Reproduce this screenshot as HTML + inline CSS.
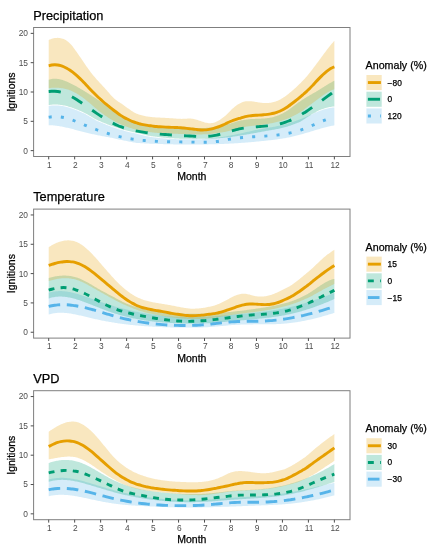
<!DOCTYPE html>
<html><head><meta charset="utf-8"><style>html,body{margin:0;padding:0;background:#fff;}svg{display:block;will-change:transform;filter:blur(0.3px);}</style></head>
<body><svg width="438" height="550" viewBox="0 0 438 550">
<rect width="438" height="550" fill="#fff"/>
<polygon points="48.70,106.01 49.70,105.84 50.70,105.70 51.70,105.58 52.70,105.50 53.70,105.44 54.70,105.42 55.70,105.42 56.70,105.44 57.70,105.49 58.70,105.57 59.70,105.67 60.70,105.79 61.70,105.94 62.70,106.11 63.70,106.30 64.70,106.50 65.70,106.73 66.70,106.98 67.70,107.25 68.70,107.53 69.70,107.83 70.70,108.15 71.70,108.48 72.70,108.82 73.70,109.18 74.70,109.55 75.70,109.93 76.70,110.33 77.70,110.74 78.70,111.15 79.70,111.58 80.70,112.01 81.70,112.45 82.70,112.90 83.70,113.35 84.70,113.81 85.70,114.35 86.70,114.93 87.70,115.51 88.70,116.09 89.70,116.67 90.70,117.26 91.70,117.85 92.70,118.44 93.70,119.03 94.70,119.62 95.70,120.21 96.70,120.69 97.70,121.13 98.70,121.57 99.70,122.00 100.70,122.43 101.70,122.86 102.70,123.28 103.70,123.69 104.70,124.10 105.70,124.50 106.70,124.90 107.70,125.29 108.70,125.68 109.70,126.06 110.70,126.43 111.70,126.80 112.70,127.16 113.70,127.51 114.70,127.86 115.70,128.20 116.70,128.52 117.70,128.84 118.70,129.15 119.70,129.46 120.70,129.76 121.70,130.05 122.70,130.34 123.70,130.62 124.70,130.89 125.70,131.16 126.70,131.42 127.70,131.68 128.70,131.92 129.70,132.16 130.70,132.40 131.70,132.63 132.70,132.85 133.70,133.06 134.70,133.27 135.70,133.48 136.70,133.73 137.70,134.00 138.70,134.26 139.70,134.52 140.70,134.77 141.70,135.02 142.70,135.26 143.70,135.49 144.70,135.71 145.70,135.93 146.70,136.14 147.70,136.35 148.70,136.55 149.70,136.74 150.70,136.91 151.70,137.06 152.70,137.20 153.70,137.33 154.70,137.46 155.70,137.59 156.70,137.71 157.70,137.82 158.70,137.93 159.70,138.04 160.70,138.14 161.70,138.23 162.70,138.32 163.70,138.41 164.70,138.49 165.70,138.56 166.70,138.64 167.70,138.71 168.70,138.77 169.70,138.83 170.70,138.89 171.70,138.94 172.70,138.99 173.70,139.03 174.70,139.08 175.70,139.12 176.70,139.15 177.70,139.18 178.70,139.21 179.70,139.24 180.70,139.26 181.70,139.28 182.70,139.30 183.70,139.31 184.70,139.33 185.70,139.34 186.70,139.35 187.70,139.35 188.70,139.36 189.70,139.36 190.70,139.36 191.70,139.35 192.70,139.35 193.70,139.34 194.70,139.33 195.70,139.32 196.70,139.31 197.70,139.29 198.70,139.27 199.70,139.25 200.70,139.20 201.70,139.14 202.70,139.08 203.70,139.01 204.70,138.94 205.70,138.87 206.70,138.79 207.70,138.71 208.70,138.62 209.70,138.53 210.70,138.44 211.70,138.34 212.70,138.23 213.70,138.12 214.70,138.01 215.70,137.88 216.70,137.76 217.70,137.63 218.70,137.49 219.70,137.35 220.70,137.20 221.70,137.05 222.70,136.89 223.70,136.73 224.70,136.57 225.70,136.40 226.70,136.22 227.70,136.04 228.70,135.86 229.70,135.68 230.70,135.49 231.70,135.29 232.70,135.10 233.70,134.90 234.70,134.70 235.70,134.49 236.70,134.29 237.70,134.08 238.70,133.86 239.70,133.65 240.70,133.43 241.70,133.21 242.70,132.99 243.70,132.77 244.70,132.54 245.70,132.32 246.70,132.09 247.70,131.86 248.70,131.63 249.70,131.40 250.70,131.17 251.70,130.94 252.70,130.70 253.70,130.47 254.70,130.27 255.70,130.08 256.70,129.90 257.70,129.71 258.70,129.52 259.70,129.34 260.70,129.15 261.70,128.97 262.70,128.78 263.70,128.60 264.70,128.42 265.70,128.24 266.70,128.06 267.70,127.88 268.70,127.71 269.70,127.54 270.70,127.36 271.70,127.19 272.70,127.01 273.70,126.83 274.70,126.65 275.70,126.46 276.70,126.27 277.70,126.08 278.70,125.87 279.70,125.66 280.70,125.44 281.70,125.21 282.70,124.97 283.70,124.72 284.70,124.45 285.70,124.17 286.70,123.88 287.70,123.58 288.70,123.27 289.70,122.95 290.70,122.63 291.70,122.32 292.70,122.00 293.70,121.66 294.70,121.32 295.70,120.97 296.70,120.60 297.70,120.23 298.70,119.85 299.70,119.47 300.70,119.07 301.70,118.67 302.70,118.26 303.70,117.85 304.70,117.43 305.70,117.01 306.70,116.59 307.70,116.17 308.70,115.74 309.70,115.32 310.70,114.87 311.70,114.41 312.70,113.95 313.70,113.49 314.70,113.05 315.70,112.61 316.70,112.18 317.70,111.76 318.70,111.35 319.70,110.96 320.70,110.58 321.70,110.22 322.70,109.87 323.70,109.54 324.70,109.22 325.70,108.93 326.70,108.66 327.70,108.41 328.70,108.18 329.70,107.98 330.70,107.80 331.70,107.65 332.70,107.52 333.70,107.43 334.37,107.38 334.37,125.37 333.70,125.49 332.70,125.68 331.70,125.87 330.70,126.08 329.70,126.29 328.70,126.52 327.70,126.75 326.70,126.99 325.70,127.24 324.70,127.50 323.70,127.77 322.70,128.04 321.70,128.31 320.70,128.59 319.70,128.88 318.70,129.17 317.70,129.46 316.70,129.76 315.70,130.06 314.70,130.36 313.70,130.66 312.70,130.96 311.70,131.27 310.70,131.57 309.70,131.88 308.70,132.18 307.70,132.48 306.70,132.78 305.70,133.08 304.70,133.37 303.70,133.67 302.70,133.95 301.70,134.23 300.70,134.51 299.70,134.78 298.70,135.05 297.70,135.31 296.70,135.57 295.70,135.82 294.70,136.06 293.70,136.30 292.70,136.53 291.70,136.75 290.70,136.97 289.70,137.19 288.70,137.39 287.70,137.59 286.70,137.79 285.70,137.97 284.70,138.15 283.70,138.33 282.70,138.50 281.70,138.66 280.70,138.81 279.70,138.96 278.70,139.11 277.70,139.25 276.70,139.38 275.70,139.51 274.70,139.64 273.70,139.77 272.70,139.89 271.70,140.01 270.70,140.13 269.70,140.24 268.70,140.35 267.70,140.47 266.70,140.58 265.70,140.69 264.70,140.80 263.70,140.90 262.70,141.01 261.70,141.11 260.70,141.21 259.70,141.31 258.70,141.41 257.70,141.51 256.70,141.61 255.70,141.70 254.70,141.80 253.70,141.89 252.70,141.98 251.70,142.06 250.70,142.15 249.70,142.24 248.70,142.32 247.70,142.40 246.70,142.48 245.70,142.56 244.70,142.64 243.70,142.72 242.70,142.79 241.70,142.86 240.70,142.93 239.70,143.00 238.70,143.07 237.70,143.14 236.70,143.20 235.70,143.27 234.70,143.33 233.70,143.39 232.70,143.45 231.70,143.50 230.70,143.56 229.70,143.61 228.70,143.66 227.70,143.71 226.70,143.76 225.70,143.81 224.70,143.85 223.70,143.90 222.70,143.94 221.70,143.98 220.70,144.02 219.70,144.06 218.70,144.09 217.70,144.13 216.70,144.16 215.70,144.19 214.70,144.22 213.70,144.25 212.70,144.27 211.70,144.30 210.70,144.32 209.70,144.34 208.70,144.36 207.70,144.38 206.70,144.39 205.70,144.41 204.70,144.42 203.70,144.43 202.70,144.44 201.70,144.45 200.70,144.45 199.70,144.45 198.70,144.46 197.70,144.46 196.70,144.46 195.70,144.45 194.70,144.45 193.70,144.44 192.70,144.43 191.70,144.42 190.70,144.41 189.70,144.41 188.70,144.42 187.70,144.43 186.70,144.44 185.70,144.44 184.70,144.45 183.70,144.45 182.70,144.45 181.70,144.45 180.70,144.45 179.70,144.44 178.70,144.44 177.70,144.43 176.70,144.42 175.70,144.41 174.70,144.40 173.70,144.38 172.70,144.37 171.70,144.35 170.70,144.33 169.70,144.31 168.70,144.28 167.70,144.26 166.70,144.23 165.70,144.20 164.70,144.17 163.70,144.14 162.70,144.10 161.70,144.06 160.70,144.03 159.70,143.99 158.70,143.96 157.70,143.94 156.70,143.91 155.70,143.87 154.70,143.84 153.70,143.80 152.70,143.76 151.70,143.73 150.70,143.68 149.70,143.64 148.70,143.59 147.70,143.55 146.70,143.50 145.70,143.45 144.70,143.40 143.70,143.34 142.70,143.28 141.70,143.23 140.70,143.17 139.70,143.10 138.70,143.04 137.70,142.97 136.70,142.91 135.70,142.80 134.70,142.62 133.70,142.43 132.70,142.24 131.70,142.05 130.70,141.85 129.70,141.66 128.70,141.46 127.70,141.26 126.70,141.06 125.70,140.86 124.70,140.65 123.70,140.45 122.70,140.25 121.70,140.04 120.70,139.84 119.70,139.63 118.70,139.41 117.70,139.20 116.70,138.98 115.70,138.77 114.70,138.54 113.70,138.32 112.70,138.09 111.70,137.87 110.70,137.63 109.70,137.42 108.70,137.25 107.70,137.08 106.70,136.90 105.70,136.73 104.70,136.55 103.70,136.36 102.70,136.18 101.70,135.99 100.70,135.80 99.70,135.60 98.70,135.40 97.70,135.20 96.70,135.00 95.70,134.79 94.70,134.58 93.70,134.37 92.70,134.15 91.70,133.93 90.70,133.70 89.70,133.47 88.70,133.24 87.70,133.00 86.70,132.76 85.70,132.52 84.70,132.27 83.70,132.01 82.70,131.76 81.70,131.49 80.70,131.23 79.70,130.97 78.70,130.70 77.70,130.43 76.70,130.17 75.70,129.90 74.70,129.63 73.70,129.37 72.70,129.11 71.70,128.85 70.70,128.60 69.70,128.35 68.70,128.10 67.70,127.86 66.70,127.63 65.70,127.40 64.70,127.18 63.70,126.97 62.70,126.77 61.70,126.57 60.70,126.39 59.70,126.22 58.70,126.05 57.70,125.90 56.70,125.76 55.70,125.64 54.70,125.52 53.70,125.42 52.70,125.34 51.70,125.27 50.70,125.22 49.70,125.18 48.70,125.16" fill="#56B4E9" fill-opacity="0.25"/>
<polygon points="48.70,79.81 49.70,79.49 50.70,79.22 51.70,79.02 52.70,78.87 53.70,78.78 54.70,78.74 55.70,78.76 56.70,78.82 57.70,78.93 58.70,79.08 59.70,79.27 60.70,79.50 61.70,79.77 62.70,80.07 63.70,80.40 64.70,80.77 65.70,81.16 66.70,81.57 67.70,82.01 68.70,82.46 69.70,82.94 70.70,83.43 71.70,83.93 72.70,84.44 73.70,84.96 74.70,85.50 75.70,86.04 76.70,86.59 77.70,87.15 78.70,87.72 79.70,88.30 80.70,88.89 81.70,89.48 82.70,90.08 83.70,90.69 84.70,91.30 85.70,91.92 86.70,92.54 87.70,93.17 88.70,93.80 89.70,94.44 90.70,95.08 91.70,95.73 92.70,96.38 93.70,97.03 94.70,97.68 95.70,98.34 96.70,99.00 97.70,99.65 98.70,100.31 99.70,100.97 100.70,101.63 101.70,102.29 102.70,102.95 103.70,103.60 104.70,104.26 105.70,104.91 106.70,105.55 107.70,106.20 108.70,106.83 109.70,107.47 110.70,108.16 111.70,108.88 112.70,109.59 113.70,110.30 114.70,110.99 115.70,111.68 116.70,112.35 117.70,113.02 118.70,113.67 119.70,114.31 120.70,114.94 121.70,115.56 122.70,116.16 123.70,116.75 124.70,117.32 125.70,117.88 126.70,118.42 127.70,118.94 128.70,119.45 129.70,119.94 130.70,120.41 131.70,120.87 132.70,121.32 133.70,121.75 134.70,122.16 135.70,122.56 136.70,122.96 137.70,123.33 138.70,123.70 139.70,124.06 140.70,124.33 141.70,124.57 142.70,124.80 143.70,125.02 144.70,125.23 145.70,125.43 146.70,125.62 147.70,125.81 148.70,125.99 149.70,126.16 150.70,126.32 151.70,126.47 152.70,126.62 153.70,126.76 154.70,126.90 155.70,127.03 156.70,127.15 157.70,127.27 158.70,127.38 159.70,127.49 160.70,127.59 161.70,127.69 162.70,127.78 163.70,127.87 164.70,127.96 165.70,128.04 166.70,128.12 167.70,128.19 168.70,128.26 169.70,128.33 170.70,128.35 171.70,128.34 172.70,128.34 173.70,128.33 174.70,128.31 175.70,128.30 176.70,128.29 177.70,128.27 178.70,128.26 179.70,128.24 180.70,128.22 181.70,128.21 182.70,128.19 183.70,128.18 184.70,128.16 185.70,128.15 186.70,128.13 187.70,128.11 188.70,128.10 189.70,128.08 190.70,128.09 191.70,128.11 192.70,128.13 193.70,128.14 194.70,128.16 195.70,128.16 196.70,128.16 197.70,128.16 198.70,128.15 199.70,128.14 200.70,128.11 201.70,128.08 202.70,128.04 203.70,128.00 204.70,127.94 205.70,127.88 206.70,127.81 207.70,127.72 208.70,127.63 209.70,127.53 210.70,127.41 211.70,127.28 212.70,127.14 213.70,126.99 214.70,126.82 215.70,126.70 216.70,126.59 217.70,126.47 218.70,126.33 219.70,126.17 220.70,126.00 221.70,125.81 222.70,125.61 223.70,125.38 224.70,125.14 225.70,124.89 226.70,124.61 227.70,124.32 228.70,124.01 229.70,123.70 230.70,123.38 231.70,123.06 232.70,122.74 233.70,122.43 234.70,122.13 235.70,121.83 236.70,121.55 237.70,121.29 238.70,121.05 239.70,120.84 240.70,120.60 241.70,120.36 242.70,120.15 243.70,119.96 244.70,119.79 245.70,119.63 246.70,119.50 247.70,119.38 248.70,119.28 249.70,119.19 250.70,119.11 251.70,119.05 252.70,118.99 253.70,118.93 254.70,118.89 255.70,118.85 256.70,118.81 257.70,118.77 258.70,118.73 259.70,118.68 260.70,118.64 261.70,118.59 262.70,118.53 263.70,118.47 264.70,118.39 265.70,118.30 266.70,118.20 267.70,118.09 268.70,117.96 269.70,117.81 270.70,117.62 271.70,117.40 272.70,117.16 273.70,116.89 274.70,116.60 275.70,116.28 276.70,115.93 277.70,115.56 278.70,115.15 279.70,114.71 280.70,114.29 281.70,113.85 282.70,113.38 283.70,112.87 284.70,112.31 285.70,111.72 286.70,111.09 287.70,110.43 288.70,109.74 289.70,109.03 290.70,108.31 291.70,107.56 292.70,106.81 293.70,106.05 294.70,105.29 295.70,104.53 296.70,103.79 297.70,103.05 298.70,102.33 299.70,101.63 300.70,100.91 301.70,100.22 302.70,99.55 303.70,98.90 304.70,98.28 305.70,97.67 306.70,97.07 307.70,96.49 308.70,95.91 309.70,95.34 310.70,94.76 311.70,94.19 312.70,93.62 313.70,93.04 314.70,92.46 315.70,91.88 316.70,91.28 317.70,90.68 318.70,90.08 319.70,89.46 320.70,88.83 321.70,88.18 322.70,87.54 323.70,86.90 324.70,86.27 325.70,85.64 326.70,85.02 327.70,84.41 328.70,83.81 329.70,83.23 330.70,82.67 331.70,82.13 332.70,81.61 333.70,81.11 334.37,80.79 334.37,106.48 333.70,106.53 332.70,106.62 331.70,106.75 330.70,106.90 329.70,107.08 328.70,107.28 327.70,107.51 326.70,107.76 325.70,108.03 324.70,108.32 323.70,108.64 322.70,108.97 321.70,109.32 320.70,109.68 319.70,110.09 318.70,110.58 317.70,111.09 316.70,111.61 315.70,112.14 314.70,112.68 313.70,113.22 312.70,113.78 311.70,114.36 310.70,115.00 309.70,115.64 308.70,116.29 307.70,116.93 306.70,117.58 305.70,118.23 304.70,118.88 303.70,119.52 302.70,120.16 301.70,120.79 300.70,121.42 299.70,121.98 298.70,122.40 297.70,122.81 296.70,123.21 295.70,123.61 294.70,123.99 293.70,124.37 292.70,124.73 291.70,125.09 290.70,125.44 289.70,125.77 288.70,126.10 287.70,126.41 286.70,126.71 285.70,127.00 284.70,127.27 283.70,127.54 282.70,127.79 281.70,128.03 280.70,128.26 279.70,128.48 278.70,128.69 277.70,128.89 276.70,129.09 275.70,129.28 274.70,129.46 273.70,129.65 272.70,129.82 271.70,130.00 270.70,130.17 269.70,130.35 268.70,130.52 267.70,130.69 266.70,130.87 265.70,131.05 264.70,131.23 263.70,131.41 262.70,131.59 261.70,131.77 260.70,131.96 259.70,132.14 258.70,132.33 257.70,132.51 256.70,132.70 255.70,132.88 254.70,133.07 253.70,133.25 252.70,133.43 251.70,133.61 250.70,133.79 249.70,133.96 248.70,134.14 247.70,134.32 246.70,134.49 245.70,134.66 244.70,134.83 243.70,135.00 242.70,135.17 241.70,135.34 240.70,135.50 239.70,135.67 238.70,135.83 237.70,135.98 236.70,136.14 235.70,136.29 234.70,136.44 233.70,136.59 232.70,136.74 231.70,136.88 230.70,137.01 229.70,137.15 228.70,137.27 227.70,137.39 226.70,137.50 225.70,137.61 224.70,137.72 223.70,137.82 222.70,137.92 221.70,138.02 220.70,138.10 219.70,138.19 218.70,138.27 217.70,138.34 216.70,138.41 215.70,138.47 214.70,138.53 213.70,138.58 212.70,138.63 211.70,138.67 210.70,138.71 209.70,138.74 208.70,138.77 207.70,138.80 206.70,138.81 205.70,138.83 204.70,138.84 203.70,138.85 202.70,138.85 201.70,138.85 200.70,138.85 199.70,138.85 198.70,138.86 197.70,138.87 196.70,138.88 195.70,138.88 194.70,138.88 193.70,138.88 192.70,138.88 191.70,138.87 190.70,138.86 189.70,138.85 188.70,138.84 187.70,138.83 186.70,138.81 185.70,138.79 184.70,138.77 183.70,138.75 182.70,138.73 181.70,138.70 180.70,138.67 179.70,138.64 178.70,138.60 177.70,138.56 176.70,138.52 175.70,138.47 174.70,138.42 173.70,138.37 172.70,138.32 171.70,138.26 170.70,138.19 169.70,138.13 168.70,138.06 167.70,137.98 166.70,137.90 165.70,137.82 164.70,137.73 163.70,137.64 162.70,137.55 161.70,137.45 160.70,137.34 159.70,137.23 158.70,137.12 157.70,137.00 156.70,136.87 155.70,136.74 154.70,136.61 153.70,136.47 152.70,136.32 151.70,136.17 150.70,136.02 149.70,135.84 148.70,135.65 147.70,135.45 146.70,135.24 145.70,135.03 144.70,134.81 143.70,134.59 142.70,134.36 141.70,134.12 140.70,133.87 139.70,133.62 138.70,133.36 137.70,133.10 136.70,132.83 135.70,132.58 134.70,132.37 133.70,132.16 132.70,131.95 131.70,131.73 130.70,131.50 129.70,131.26 128.70,131.02 127.70,130.78 126.70,130.52 125.70,130.26 124.70,129.99 123.70,129.72 122.70,129.44 121.70,129.15 120.70,128.86 119.70,128.56 118.70,128.25 117.70,127.94 116.70,127.62 115.70,127.30 114.70,126.96 113.70,126.61 112.70,126.26 111.70,125.90 110.70,125.53 109.70,125.16 108.70,124.78 107.70,124.39 106.70,124.00 105.70,123.60 104.70,123.20 103.70,122.79 102.70,122.38 101.70,121.96 100.70,121.53 99.70,121.10 98.70,120.67 97.70,120.23 96.70,119.79 95.70,119.31 94.70,118.72 93.70,118.13 92.70,117.54 91.70,116.95 90.70,116.36 89.70,115.77 88.70,115.19 87.70,114.61 86.70,114.03 85.70,113.45 84.70,112.91 83.70,112.45 82.70,112.00 81.70,111.55 80.70,111.11 79.70,110.68 78.70,110.25 77.70,109.84 76.70,109.43 75.70,109.03 74.70,108.65 73.70,108.28 72.70,107.92 71.70,107.58 70.70,107.25 69.70,106.93 68.70,106.63 67.70,106.35 66.70,106.08 65.70,105.83 64.70,105.60 63.70,105.40 62.70,105.21 61.70,105.04 60.70,104.89 59.70,104.77 58.70,104.67 57.70,104.59 56.70,104.54 55.70,104.52 54.70,104.52 53.70,104.54 52.70,104.60 51.70,104.68 50.70,104.80 49.70,104.94 48.70,105.11" fill="#009E73" fill-opacity="0.25"/>
<polygon points="48.70,40.01 49.70,39.58 50.70,39.20 51.70,38.86 52.70,38.56 53.70,38.32 54.70,38.12 55.70,37.98 56.70,37.90 57.70,37.87 58.70,37.90 59.70,38.00 60.70,38.16 61.70,38.38 62.70,38.68 63.70,39.05 64.70,39.50 65.70,40.03 66.70,40.66 67.70,41.38 68.70,42.21 69.70,43.15 70.70,44.21 71.70,45.37 72.70,46.61 73.70,47.92 74.70,49.27 75.70,50.65 76.70,52.06 77.70,53.48 78.70,54.93 79.70,56.39 80.70,57.87 81.70,59.34 82.70,60.82 83.70,62.30 84.70,63.76 85.70,65.22 86.70,66.66 87.70,68.08 88.70,69.47 89.70,70.84 90.70,72.17 91.70,73.47 92.70,74.72 93.70,75.94 94.70,77.12 95.70,78.27 96.70,79.40 97.70,80.50 98.70,81.59 99.70,82.67 100.70,83.75 101.70,84.82 102.70,85.90 103.70,86.98 104.70,88.08 105.70,89.19 106.70,90.31 107.70,91.45 108.70,92.60 109.70,93.76 110.70,94.90 111.70,96.01 112.70,97.07 113.70,98.05 114.70,98.96 115.70,99.78 116.70,100.53 117.70,101.24 118.70,101.90 119.70,102.55 120.70,103.19 121.70,103.84 122.70,104.52 123.70,105.21 124.70,105.93 125.70,106.66 126.70,107.40 127.70,108.13 128.70,108.86 129.70,109.58 130.70,110.27 131.70,110.95 132.70,111.59 133.70,112.19 134.70,112.75 135.70,113.26 136.70,113.71 137.70,114.11 138.70,114.47 139.70,114.79 140.70,115.07 141.70,115.34 142.70,115.58 143.70,115.81 144.70,116.01 145.70,116.20 146.70,116.38 147.70,116.54 148.70,116.68 149.70,116.81 150.70,116.93 151.70,117.04 152.70,117.14 153.70,117.22 154.70,117.30 155.70,117.38 156.70,117.44 157.70,117.50 158.70,117.56 159.70,117.61 160.70,117.66 161.70,117.70 162.70,117.75 163.70,117.80 164.70,117.84 165.70,117.89 166.70,117.94 167.70,118.00 168.70,118.06 169.70,118.13 170.70,118.20 171.70,118.28 172.70,118.36 173.70,118.44 174.70,118.53 175.70,118.60 176.70,118.68 177.70,118.74 178.70,118.80 179.70,118.84 180.70,118.87 181.70,118.88 182.70,118.87 183.70,118.84 184.70,118.79 185.70,118.73 186.70,118.67 187.70,118.62 188.70,118.59 189.70,118.58 190.70,118.61 191.70,118.68 192.70,118.81 193.70,118.98 194.70,119.21 195.70,119.47 196.70,119.76 197.70,120.08 198.70,120.41 199.70,120.75 200.70,121.10 201.70,121.44 202.70,121.77 203.70,122.09 204.70,122.38 205.70,122.63 206.70,122.85 207.70,123.03 208.70,123.14 209.70,123.20 210.70,123.20 211.70,123.11 212.70,122.95 213.70,122.71 214.70,122.40 215.70,122.01 216.70,121.57 217.70,121.06 218.70,120.50 219.70,119.90 220.70,119.25 221.70,118.56 222.70,117.84 223.70,117.07 224.70,116.28 225.70,115.38 226.70,114.42 227.70,113.44 228.70,112.44 229.70,111.42 230.70,110.39 231.70,109.35 232.70,108.46 233.70,107.63 234.70,106.81 235.70,106.02 236.70,105.26 237.70,104.57 238.70,103.94 239.70,103.40 240.70,102.88 241.70,102.42 242.70,102.04 243.70,101.73 244.70,101.49 245.70,101.32 246.70,101.21 247.70,101.15 248.70,101.13 249.70,101.16 250.70,101.23 251.70,101.33 252.70,101.46 253.70,101.60 254.70,101.76 255.70,101.93 256.70,102.11 257.70,102.28 258.70,102.45 259.70,102.60 260.70,102.74 261.70,102.85 262.70,102.95 263.70,103.02 264.70,103.06 265.70,103.08 266.70,103.07 267.70,103.03 268.70,102.96 269.70,102.86 270.70,102.72 271.70,102.55 272.70,102.34 273.70,102.09 274.70,101.80 275.70,101.47 276.70,101.10 277.70,100.69 278.70,100.23 279.70,99.73 280.70,99.19 281.70,98.61 282.70,97.99 283.70,97.35 284.70,96.67 285.70,95.96 286.70,95.22 287.70,94.46 288.70,93.67 289.70,92.86 290.70,92.03 291.70,91.18 292.70,90.31 293.70,89.43 294.70,88.54 295.70,87.64 296.70,86.72 297.70,85.79 298.70,84.84 299.70,83.87 300.70,82.88 301.70,81.86 302.70,80.83 303.70,79.76 304.70,78.67 305.70,77.55 306.70,76.40 307.70,75.22 308.70,74.01 309.70,72.77 310.70,71.51 311.70,70.23 312.70,68.93 313.70,67.62 314.70,66.29 315.70,64.95 316.70,63.60 317.70,62.24 318.70,60.88 319.70,59.52 320.70,58.16 321.70,56.80 322.70,55.44 323.70,54.09 324.70,52.75 325.70,51.43 326.70,50.12 327.70,48.82 328.70,47.54 329.70,46.29 330.70,45.06 331.70,43.85 332.70,42.68 333.70,41.53 334.37,40.78 334.37,89.20 333.70,89.45 332.70,89.85 331.70,90.28 330.70,90.75 329.70,91.25 328.70,91.78 327.70,92.35 326.70,92.93 325.70,93.55 324.70,94.19 323.70,94.85 322.70,95.53 321.70,96.22 320.70,96.94 319.70,97.67 318.70,98.41 317.70,99.16 316.70,99.92 315.70,100.69 314.70,101.46 313.70,102.24 312.70,103.02 311.70,103.80 310.70,104.57 309.70,105.35 308.70,106.11 307.70,106.87 306.70,107.62 305.70,108.36 304.70,109.09 303.70,109.80 302.70,110.49 301.70,111.17 300.70,111.83 299.70,112.46 298.70,113.07 297.70,113.67 296.70,114.24 295.70,114.79 294.70,115.32 293.70,115.84 292.70,116.33 291.70,116.81 290.70,117.27 289.70,117.71 288.70,118.14 287.70,118.55 286.70,118.94 285.70,119.31 284.70,119.68 283.70,120.02 282.70,120.35 281.70,120.67 280.70,120.98 279.70,121.27 278.70,121.55 277.70,121.81 276.70,122.07 275.70,122.31 274.70,122.55 273.70,122.77 272.70,122.98 271.70,123.18 270.70,123.37 269.70,123.56 268.70,123.73 267.70,123.90 266.70,124.06 265.70,124.21 264.70,124.36 263.70,124.50 262.70,124.63 261.70,124.76 260.70,124.89 259.70,125.00 258.70,125.12 257.70,125.23 256.70,125.34 255.70,125.45 254.70,125.56 253.70,125.68 252.70,125.79 251.70,125.91 250.70,126.04 249.70,126.17 248.70,126.31 247.70,126.46 246.70,126.61 245.70,126.78 244.70,126.97 243.70,127.16 242.70,127.37 241.70,127.60 240.70,127.84 239.70,128.10 238.70,128.38 237.70,128.67 236.70,128.99 235.70,129.31 234.70,129.62 233.70,129.86 232.70,130.10 231.70,130.35 230.70,130.60 229.70,130.84 228.70,131.08 227.70,131.31 226.70,131.52 225.70,131.73 224.70,131.91 223.70,132.08 222.70,132.24 221.70,132.38 220.70,132.50 219.70,132.64 218.70,132.83 217.70,133.02 216.70,133.18 215.70,133.34 214.70,133.48 213.70,133.61 212.70,133.73 211.70,133.84 210.70,133.93 209.70,134.02 208.70,134.10 207.70,134.16 206.70,134.22 205.70,134.27 204.70,134.31 203.70,134.34 202.70,134.37 201.70,134.39 200.70,134.40 199.70,134.41 198.70,134.41 197.70,134.40 196.70,134.39 195.70,134.38 194.70,134.36 193.70,134.34 192.70,134.31 191.70,134.29 190.70,134.26 189.70,134.23 188.70,134.19 187.70,134.16 186.70,134.13 185.70,134.09 184.70,134.06 183.70,134.03 182.70,133.99 181.70,133.96 180.70,133.93 179.70,133.90 178.70,133.88 177.70,133.85 176.70,133.82 175.70,133.79 174.70,133.76 173.70,133.73 172.70,133.70 171.70,133.66 170.70,133.63 169.70,133.59 168.70,133.55 167.70,133.51 166.70,133.47 165.70,133.42 164.70,133.37 163.70,133.32 162.70,133.26 161.70,133.20 160.70,133.14 159.70,133.07 158.70,133.00 157.70,132.92 156.70,132.83 155.70,132.75 154.70,132.65 153.70,132.55 152.70,132.44 151.70,132.33 150.70,132.21 149.70,132.09 148.70,131.95 147.70,131.81 146.70,131.66 145.70,131.51 144.70,131.34 143.70,131.17 142.70,130.99 141.70,130.80 140.70,130.60 139.70,130.39 138.70,130.17 137.70,129.94 136.70,129.71 135.70,129.46 134.70,129.20 133.70,128.93 132.70,128.65 131.70,128.36 130.70,128.05 129.70,127.74 128.70,127.41 127.70,127.07 126.70,126.71 125.70,126.35 124.70,125.97 123.70,125.58 122.70,125.17 121.70,124.75 120.70,124.32 119.70,123.87 118.70,123.41 117.70,122.93 116.70,122.44 115.70,121.93 114.70,121.40 113.70,120.86 112.70,120.31 111.70,119.74 110.70,119.15 109.70,118.54 108.70,117.92 107.70,117.28 106.70,116.62 105.70,115.95 104.70,115.26 103.70,114.55 102.70,113.82 101.70,113.07 100.70,112.31 99.70,111.53 98.70,110.72 97.70,109.91 96.70,109.08 95.70,108.24 94.70,107.39 93.70,106.54 92.70,105.68 91.70,104.82 90.70,103.97 89.70,103.12 88.70,102.28 87.70,101.46 86.70,100.64 85.70,99.84 84.70,99.06 83.70,98.30 82.70,97.55 81.70,96.84 80.70,96.14 79.70,95.47 78.70,94.82 77.70,94.20 76.70,93.60 75.70,93.03 74.70,92.49 73.70,91.98 72.70,91.49 71.70,91.04 70.70,90.62 69.70,90.23 68.70,89.87 67.70,89.54 66.70,89.24 65.70,88.96 64.70,88.72 63.70,88.50 62.70,88.31 61.70,88.15 60.70,88.01 59.70,87.90 58.70,87.81 57.70,87.75 56.70,87.70 55.70,87.69 54.70,87.69 53.70,87.71 52.70,87.76 51.70,87.82 50.70,87.91 49.70,88.01 48.70,88.14" fill="#E69F00" fill-opacity="0.25"/>
<path d="M48.70,65.71C49.20,65.60 50.70,65.18 51.70,65.03C52.70,64.88 53.70,64.81 54.70,64.81C55.70,64.80 56.70,64.88 57.70,65.03C58.70,65.17 59.70,65.39 60.70,65.67C61.70,65.96 62.70,66.31 63.70,66.73C64.70,67.15 65.70,67.64 66.70,68.19C67.70,68.74 68.70,69.35 69.70,70.02C70.70,70.68 71.70,71.41 72.70,72.17C73.70,72.94 74.70,73.76 75.70,74.62C76.70,75.47 77.70,76.38 78.70,77.32C79.70,78.26 80.70,79.25 81.70,80.25C82.70,81.26 83.70,82.31 84.70,83.35C85.70,84.40 86.70,85.48 87.70,86.53C88.70,87.59 89.70,88.66 90.70,89.69C91.70,90.73 92.70,91.75 93.70,92.76C94.70,93.76 95.70,94.74 96.70,95.70C97.70,96.66 98.70,97.60 99.70,98.52C100.70,99.44 101.70,100.34 102.70,101.22C103.70,102.09 104.70,102.95 105.70,103.78C106.70,104.62 107.70,105.41 108.70,106.21C109.70,107.02 110.70,107.84 111.70,108.64C112.70,109.44 113.70,110.25 114.70,111.02C115.70,111.79 116.70,112.53 117.70,113.25C118.70,113.97 119.70,114.68 120.70,115.34C121.70,116.00 122.70,116.65 123.70,117.23C124.70,117.81 125.70,118.31 126.70,118.82C127.70,119.32 128.70,119.81 129.70,120.26C130.70,120.72 131.70,121.16 132.70,121.57C133.70,121.98 134.70,122.40 135.70,122.74C136.70,123.07 137.70,123.33 138.70,123.60C139.70,123.86 140.70,124.10 141.70,124.31C142.70,124.53 143.70,124.73 144.70,124.91C145.70,125.09 146.70,125.25 147.70,125.40C148.70,125.55 149.70,125.67 150.70,125.80C151.70,125.93 152.70,126.07 153.70,126.19C154.70,126.30 155.70,126.40 156.70,126.49C157.70,126.58 158.70,126.66 159.70,126.73C160.70,126.81 161.70,126.87 162.70,126.92C163.70,126.98 164.70,127.03 165.70,127.08C166.70,127.12 167.70,127.16 168.70,127.21C169.70,127.25 170.70,127.29 171.70,127.33C172.70,127.37 173.70,127.40 174.70,127.44C175.70,127.48 176.70,127.51 177.70,127.56C178.70,127.61 179.70,127.65 180.70,127.73C181.70,127.81 182.70,127.94 183.70,128.05C184.70,128.16 185.70,128.27 186.70,128.38C187.70,128.49 188.70,128.60 189.70,128.71C190.70,128.82 191.70,128.94 192.70,129.05C193.70,129.17 194.70,129.28 195.70,129.40C196.70,129.52 197.70,129.68 198.70,129.77C199.70,129.86 200.70,129.93 201.70,129.95C202.70,129.98 203.70,129.96 204.70,129.91C205.70,129.87 206.70,129.80 207.70,129.68C208.70,129.56 209.70,129.39 210.70,129.18C211.70,128.97 212.70,128.70 213.70,128.42C214.70,128.13 215.70,127.81 216.70,127.46C217.70,127.12 218.70,126.74 219.70,126.35C220.70,125.95 221.70,125.52 222.70,125.09C223.70,124.65 224.70,124.19 225.70,123.72C226.70,123.25 227.70,122.74 228.70,122.29C229.70,121.84 230.70,121.41 231.70,121.02C232.70,120.63 233.70,120.28 234.70,119.94C235.70,119.59 236.70,119.26 237.70,118.94C238.70,118.62 239.70,118.33 240.70,118.01C241.70,117.69 242.70,117.32 243.70,117.04C244.70,116.76 245.70,116.51 246.70,116.32C247.70,116.12 248.70,115.99 249.70,115.85C250.70,115.72 251.70,115.62 252.70,115.53C253.70,115.43 254.70,115.37 255.70,115.31C256.70,115.25 257.70,115.20 258.70,115.14C259.70,115.08 260.70,115.02 261.70,114.94C262.70,114.86 263.70,114.75 264.70,114.66C265.70,114.56 266.70,114.47 267.70,114.35C268.70,114.22 269.70,114.08 270.70,113.89C271.70,113.71 272.70,113.50 273.70,113.24C274.70,112.99 275.70,112.70 276.70,112.37C277.70,112.03 278.70,111.66 279.70,111.23C280.70,110.80 281.70,110.32 282.70,109.79C283.70,109.25 284.70,108.65 285.70,108.02C286.70,107.38 287.70,106.67 288.70,105.95C289.70,105.24 290.70,104.47 291.70,103.73C292.70,102.98 293.70,102.23 294.70,101.47C295.70,100.70 296.70,99.94 297.70,99.14C298.70,98.34 299.70,97.51 300.70,96.65C301.70,95.79 302.70,94.87 303.70,93.98C304.70,93.09 305.70,92.22 306.70,91.31C307.70,90.40 308.70,89.50 309.70,88.51C310.70,87.52 311.70,86.45 312.70,85.38C313.70,84.30 314.70,83.14 315.70,82.06C316.70,80.97 317.70,79.90 318.70,78.87C319.70,77.84 320.70,76.81 321.70,75.86C322.70,74.91 323.70,74.02 324.70,73.16C325.70,72.30 326.70,71.45 327.70,70.69C328.70,69.93 329.70,69.18 330.70,68.58C331.70,67.97 333.09,67.36 333.70,67.07C334.31,66.78 334.26,66.86 334.37,66.82" fill="none" stroke="#E69F00" stroke-width="2.9" stroke-linecap="butt"/>
<path d="M48.70,91.48C49.20,91.44 50.70,91.29 51.70,91.26C52.70,91.23 53.70,91.23 54.70,91.28C55.70,91.33 56.70,91.42 57.70,91.55C58.70,91.69 59.70,91.86 60.70,92.09C61.70,92.32 62.70,92.59 63.70,92.92C64.70,93.25 65.70,93.63 66.70,94.05C67.70,94.48 68.70,94.97 69.70,95.48C70.70,96.00 71.70,96.57 72.70,97.15C73.70,97.74 74.70,98.36 75.70,98.99C76.70,99.62 77.70,100.28 78.70,100.94C79.70,101.60 80.70,102.28 81.70,102.95C82.70,103.63 83.70,104.32 84.70,105.02C85.70,105.71 86.70,106.41 87.70,107.11C88.70,107.80 89.70,108.51 90.70,109.20C91.70,109.90 92.70,110.60 93.70,111.29C94.70,111.98 95.70,112.67 96.70,113.35C97.70,114.02 98.70,114.69 99.70,115.35C100.70,116.01 101.70,116.66 102.70,117.29C103.70,117.92 104.70,118.54 105.70,119.15C106.70,119.75 107.70,120.34 108.70,120.91C109.70,121.48 110.70,122.03 111.70,122.56C112.70,123.09 113.70,123.60 114.70,124.08C115.70,124.57 116.70,125.03 117.70,125.46C118.70,125.90 119.70,126.31 120.70,126.69C121.70,127.07 122.70,127.43 123.70,127.77C124.70,128.10 125.70,128.41 126.70,128.71C127.70,129.00 128.70,129.27 129.70,129.53C130.70,129.79 131.70,130.02 132.70,130.25C133.70,130.47 134.70,130.68 135.70,130.88C136.70,131.07 137.70,131.26 138.70,131.43C139.70,131.60 140.70,131.77 141.70,131.93C142.70,132.08 143.70,132.23 144.70,132.37C145.70,132.52 146.70,132.65 147.70,132.78C148.70,132.91 149.70,133.04 150.70,133.16C151.70,133.27 152.70,133.39 153.70,133.49C154.70,133.60 155.70,133.70 156.70,133.80C157.70,133.90 158.70,133.99 159.70,134.08C160.70,134.17 161.70,134.25 162.70,134.33C163.70,134.42 164.70,134.49 165.70,134.57C166.70,134.64 167.70,134.71 168.70,134.78C169.70,134.85 170.70,134.91 171.70,134.98C172.70,135.04 173.70,135.10 174.70,135.16C175.70,135.22 176.70,135.28 177.70,135.34C178.70,135.39 179.70,135.45 180.70,135.51C181.70,135.56 182.70,135.62 183.70,135.67C184.70,135.73 185.70,135.78 186.70,135.83C187.70,135.89 188.70,135.95 189.70,136.00C190.70,136.06 191.70,136.12 192.70,136.17C193.70,136.22 194.70,136.28 195.70,136.33C196.70,136.37 197.70,136.41 198.70,136.44C199.70,136.47 200.70,136.49 201.70,136.50C202.70,136.51 203.70,136.50 204.70,136.47C205.70,136.45 206.70,136.41 207.70,136.34C208.70,136.28 209.70,136.20 210.70,136.09C211.70,135.97 212.70,135.84 213.70,135.68C214.70,135.51 215.70,135.32 216.70,135.10C217.70,134.88 218.70,134.64 219.70,134.38C220.70,134.13 221.70,133.85 222.70,133.56C223.70,133.28 224.70,132.98 225.70,132.68C226.70,132.38 227.70,132.07 228.70,131.77C229.70,131.47 230.70,131.17 231.70,130.88C232.70,130.59 233.70,130.30 234.70,130.04C235.70,129.77 236.70,129.52 237.70,129.29C238.70,129.06 239.70,128.85 240.70,128.66C241.70,128.47 242.70,128.30 243.70,128.14C244.70,127.99 245.70,127.85 246.70,127.73C247.70,127.60 248.70,127.49 249.70,127.39C250.70,127.28 251.70,127.19 252.70,127.10C253.70,127.02 254.70,126.94 255.70,126.86C256.70,126.78 257.70,126.71 258.70,126.63C259.70,126.55 260.70,126.48 261.70,126.40C262.70,126.32 263.70,126.24 264.70,126.15C265.70,126.06 266.70,125.96 267.70,125.86C268.70,125.75 269.70,125.63 270.70,125.50C271.70,125.37 272.70,125.23 273.70,125.07C274.70,124.91 275.70,124.73 276.70,124.53C277.70,124.34 278.70,124.12 279.70,123.88C280.70,123.64 281.70,123.38 282.70,123.09C283.70,122.80 284.70,122.48 285.70,122.14C286.70,121.79 287.70,121.41 288.70,121.01C289.70,120.61 290.70,120.17 291.70,119.71C292.70,119.25 293.70,118.76 294.70,118.25C295.70,117.74 296.70,117.21 297.70,116.65C298.70,116.10 299.70,115.52 300.70,114.93C301.70,114.33 302.70,113.72 303.70,113.09C304.70,112.46 305.70,111.81 306.70,111.16C307.70,110.50 308.70,109.82 309.70,109.14C310.70,108.46 311.70,107.76 312.70,107.06C313.70,106.36 314.70,105.64 315.70,104.93C316.70,104.21 317.70,103.48 318.70,102.76C319.70,102.03 320.70,101.30 321.70,100.57C322.70,99.84 323.70,99.11 324.70,98.38C325.70,97.65 326.70,96.92 327.70,96.20C328.70,95.47 329.70,94.75 330.70,94.04C331.70,93.33 333.09,92.35 333.70,91.92C334.31,91.49 334.26,91.53 334.37,91.46" fill="none" stroke="#009E73" stroke-width="2.9" stroke-linecap="butt" stroke-dasharray="12.15 12.15" stroke-dashoffset="0"/>
<path d="M48.70,117.24C49.20,117.16 50.70,116.85 51.70,116.73C52.70,116.61 53.70,116.55 54.70,116.53C55.70,116.51 56.70,116.54 57.70,116.61C58.70,116.68 59.70,116.80 60.70,116.95C61.70,117.10 62.70,117.29 63.70,117.51C64.70,117.72 65.70,117.98 66.70,118.25C67.70,118.53 68.70,118.84 69.70,119.16C70.70,119.49 71.70,119.84 72.70,120.20C73.70,120.57 74.70,120.95 75.70,121.34C76.70,121.73 77.70,122.14 78.70,122.55C79.70,122.96 80.70,123.38 81.70,123.79C82.70,124.21 83.70,124.63 84.70,125.05C85.70,125.46 86.70,125.87 87.70,126.28C88.70,126.68 89.70,127.08 90.70,127.47C91.70,127.87 92.70,128.25 93.70,128.63C94.70,129.01 95.70,129.39 96.70,129.75C97.70,130.12 98.70,130.47 99.70,130.83C100.70,131.18 101.70,131.52 102.70,131.85C103.70,132.19 104.70,132.52 105.70,132.83C106.70,133.15 107.70,133.46 108.70,133.76C109.70,134.06 110.70,134.36 111.70,134.64C112.70,134.92 113.70,135.20 114.70,135.46C115.70,135.72 116.70,135.98 117.70,136.22C118.70,136.47 119.70,136.70 120.70,136.92C121.70,137.15 122.70,137.36 123.70,137.56C124.70,137.76 125.70,137.96 126.70,138.14C127.70,138.32 128.70,138.50 129.70,138.66C130.70,138.83 131.70,138.98 132.70,139.13C133.70,139.28 134.70,139.42 135.70,139.55C136.70,139.68 137.70,139.80 138.70,139.92C139.70,140.04 140.70,140.14 141.70,140.25C142.70,140.35 143.70,140.44 144.70,140.53C145.70,140.62 146.70,140.70 147.70,140.78C148.70,140.86 149.70,140.93 150.70,141.00C151.70,141.06 152.70,141.12 153.70,141.18C154.70,141.23 155.70,141.28 156.70,141.33C157.70,141.38 158.70,141.42 159.70,141.46C160.70,141.50 161.70,141.53 162.70,141.57C163.70,141.60 164.70,141.63 165.70,141.65C166.70,141.68 167.70,141.70 168.70,141.72C169.70,141.75 170.70,141.77 171.70,141.78C172.70,141.80 173.70,141.82 174.70,141.83C175.70,141.85 176.70,141.86 177.70,141.87C178.70,141.89 179.70,141.90 180.70,141.91C181.70,141.93 182.70,141.94 183.70,141.95C184.70,141.96 185.70,141.98 186.70,141.99C187.70,142.01 188.70,142.02 189.70,142.04C190.70,142.06 191.70,142.08 192.70,142.10C193.70,142.12 194.70,142.14 195.70,142.16C196.70,142.18 197.70,142.21 198.70,142.22C199.70,142.24 200.70,142.25 201.70,142.26C202.70,142.27 203.70,142.27 204.70,142.26C205.70,142.25 206.70,142.23 207.70,142.20C208.70,142.17 209.70,142.13 210.70,142.07C211.70,142.01 212.70,141.94 213.70,141.85C214.70,141.76 215.70,141.65 216.70,141.52C217.70,141.39 218.70,141.24 219.70,141.07C220.70,140.91 221.70,140.72 222.70,140.54C223.70,140.35 224.70,140.15 225.70,139.96C226.70,139.76 227.70,139.57 228.70,139.39C229.70,139.21 230.70,139.04 231.70,138.88C232.70,138.72 233.70,138.57 234.70,138.44C235.70,138.30 236.70,138.18 237.70,138.06C238.70,137.94 239.70,137.84 240.70,137.74C241.70,137.64 242.70,137.54 243.70,137.46C244.70,137.37 245.70,137.29 246.70,137.22C247.70,137.14 248.70,137.07 249.70,137.00C250.70,136.94 251.70,136.88 252.70,136.81C253.70,136.75 254.70,136.70 255.70,136.64C256.70,136.58 257.70,136.52 258.70,136.47C259.70,136.41 260.70,136.35 261.70,136.29C262.70,136.23 263.70,136.17 264.70,136.10C265.70,136.04 266.70,135.97 267.70,135.90C268.70,135.82 269.70,135.75 270.70,135.66C271.70,135.58 272.70,135.49 273.70,135.39C274.70,135.29 275.70,135.19 276.70,135.08C277.70,134.96 278.70,134.84 279.70,134.71C280.70,134.58 281.70,134.44 282.70,134.29C283.70,134.13 284.70,133.97 285.70,133.79C286.70,133.62 287.70,133.43 288.70,133.23C289.70,133.02 290.70,132.81 291.70,132.57C292.70,132.34 293.70,132.09 294.70,131.83C295.70,131.57 296.70,131.29 297.70,130.99C298.70,130.69 299.70,130.37 300.70,130.04C301.70,129.70 302.70,129.34 303.70,128.97C304.70,128.60 305.70,128.21 306.70,127.81C307.70,127.41 308.70,126.99 309.70,126.57C310.70,126.15 311.70,125.71 312.70,125.28C313.70,124.85 314.70,124.41 315.70,123.98C316.70,123.54 317.70,123.11 318.70,122.68C319.70,122.25 320.70,121.83 321.70,121.41C322.70,121.00 323.70,120.60 324.70,120.21C325.70,119.82 326.70,119.44 327.70,119.09C328.70,118.74 329.70,118.40 330.70,118.09C331.70,117.78 333.09,117.40 333.70,117.22C334.31,117.05 334.26,117.08 334.37,117.05" fill="none" stroke="#56B4E9" stroke-width="2.9" stroke-linecap="butt" stroke-dasharray="3.05 9.16" stroke-dashoffset="0"/>
<rect x="33.6" y="27.5" width="316.4" height="129.0" fill="none" stroke="#7f7f7f" stroke-width="1"/>
<line x1="30.70" y1="150.64" x2="33.60" y2="150.64" stroke="#4d4d4d" stroke-width="1"/>
<text x="28.0" y="153.54" text-anchor="end" font-size="8.4" fill="#4d4d4d" font-family="Liberation Sans, sans-serif">0</text>
<line x1="30.70" y1="121.32" x2="33.60" y2="121.32" stroke="#4d4d4d" stroke-width="1"/>
<text x="28.0" y="124.22" text-anchor="end" font-size="8.4" fill="#4d4d4d" font-family="Liberation Sans, sans-serif">5</text>
<line x1="30.70" y1="92.00" x2="33.60" y2="92.00" stroke="#4d4d4d" stroke-width="1"/>
<text x="28.0" y="94.90" text-anchor="end" font-size="8.4" fill="#4d4d4d" font-family="Liberation Sans, sans-serif">10</text>
<line x1="30.70" y1="62.68" x2="33.60" y2="62.68" stroke="#4d4d4d" stroke-width="1"/>
<text x="28.0" y="65.58" text-anchor="end" font-size="8.4" fill="#4d4d4d" font-family="Liberation Sans, sans-serif">15</text>
<line x1="30.70" y1="33.36" x2="33.60" y2="33.36" stroke="#4d4d4d" stroke-width="1"/>
<text x="28.0" y="36.26" text-anchor="end" font-size="8.4" fill="#4d4d4d" font-family="Liberation Sans, sans-serif">20</text>
<line x1="48.70" y1="156.50" x2="48.70" y2="159.40" stroke="#4d4d4d" stroke-width="1"/>
<text x="49.40" y="167.60" text-anchor="middle" font-size="8.4" fill="#4d4d4d" font-family="Liberation Sans, sans-serif">1</text>
<line x1="74.67" y1="156.50" x2="74.67" y2="159.40" stroke="#4d4d4d" stroke-width="1"/>
<text x="75.37" y="167.60" text-anchor="middle" font-size="8.4" fill="#4d4d4d" font-family="Liberation Sans, sans-serif">2</text>
<line x1="100.64" y1="156.50" x2="100.64" y2="159.40" stroke="#4d4d4d" stroke-width="1"/>
<text x="101.34" y="167.60" text-anchor="middle" font-size="8.4" fill="#4d4d4d" font-family="Liberation Sans, sans-serif">3</text>
<line x1="126.61" y1="156.50" x2="126.61" y2="159.40" stroke="#4d4d4d" stroke-width="1"/>
<text x="127.31" y="167.60" text-anchor="middle" font-size="8.4" fill="#4d4d4d" font-family="Liberation Sans, sans-serif">4</text>
<line x1="152.58" y1="156.50" x2="152.58" y2="159.40" stroke="#4d4d4d" stroke-width="1"/>
<text x="153.28" y="167.60" text-anchor="middle" font-size="8.4" fill="#4d4d4d" font-family="Liberation Sans, sans-serif">5</text>
<line x1="178.55" y1="156.50" x2="178.55" y2="159.40" stroke="#4d4d4d" stroke-width="1"/>
<text x="179.25" y="167.60" text-anchor="middle" font-size="8.4" fill="#4d4d4d" font-family="Liberation Sans, sans-serif">6</text>
<line x1="204.52" y1="156.50" x2="204.52" y2="159.40" stroke="#4d4d4d" stroke-width="1"/>
<text x="205.22" y="167.60" text-anchor="middle" font-size="8.4" fill="#4d4d4d" font-family="Liberation Sans, sans-serif">7</text>
<line x1="230.49" y1="156.50" x2="230.49" y2="159.40" stroke="#4d4d4d" stroke-width="1"/>
<text x="231.19" y="167.60" text-anchor="middle" font-size="8.4" fill="#4d4d4d" font-family="Liberation Sans, sans-serif">8</text>
<line x1="256.46" y1="156.50" x2="256.46" y2="159.40" stroke="#4d4d4d" stroke-width="1"/>
<text x="257.16" y="167.60" text-anchor="middle" font-size="8.4" fill="#4d4d4d" font-family="Liberation Sans, sans-serif">9</text>
<line x1="282.43" y1="156.50" x2="282.43" y2="159.40" stroke="#4d4d4d" stroke-width="1"/>
<text x="283.13" y="167.60" text-anchor="middle" font-size="8.4" fill="#4d4d4d" font-family="Liberation Sans, sans-serif">10</text>
<line x1="308.40" y1="156.50" x2="308.40" y2="159.40" stroke="#4d4d4d" stroke-width="1"/>
<text x="309.10" y="167.60" text-anchor="middle" font-size="8.4" fill="#4d4d4d" font-family="Liberation Sans, sans-serif">11</text>
<line x1="334.37" y1="156.50" x2="334.37" y2="159.40" stroke="#4d4d4d" stroke-width="1"/>
<text x="335.07" y="167.60" text-anchor="middle" font-size="8.4" fill="#4d4d4d" font-family="Liberation Sans, sans-serif">12</text>
<text x="191.80" y="179.90" text-anchor="middle" font-size="10.5" fill="#000" stroke="#000" stroke-width="0.25" font-family="Liberation Sans, sans-serif">Month</text>
<text transform="translate(15.4,92.00) rotate(-90)" x="0" y="0" text-anchor="middle" font-size="10.5" fill="#000" stroke="#000" stroke-width="0.25" font-family="Liberation Sans, sans-serif">Ignitions</text>
<text x="33.2" y="19.70" font-size="12.75" fill="#000" stroke="#000" stroke-width="0.25" font-family="Liberation Sans, sans-serif">Precipitation</text>
<text x="365.6" y="69.20" font-size="10.7" fill="#000" stroke="#000" stroke-width="0.25" font-family="Liberation Sans, sans-serif">Anomaly (%)</text>
<rect x="366.4" y="75.00" width="15.3" height="15.1" fill="#E69F00" fill-opacity="0.25"/>
<line x1="367.9" y1="82.55" x2="380.9" y2="82.55" stroke="#E69F00" stroke-width="2.9"/>
<text x="387.6" y="85.50" font-size="8.4" fill="#000" stroke="#000" stroke-width="0.25" font-family="Liberation Sans, sans-serif">−80</text>
<rect x="366.4" y="91.70" width="15.3" height="15.1" fill="#009E73" fill-opacity="0.25"/>
<line x1="367.9" y1="99.25" x2="380.9" y2="99.25" stroke="#009E73" stroke-width="2.9" stroke-dasharray="12.15 12.15"/>
<text x="387.6" y="102.20" font-size="8.4" fill="#000" stroke="#000" stroke-width="0.25" font-family="Liberation Sans, sans-serif">0</text>
<rect x="366.4" y="108.40" width="15.3" height="15.1" fill="#56B4E9" fill-opacity="0.25"/>
<line x1="367.9" y1="115.95" x2="380.9" y2="115.95" stroke="#56B4E9" stroke-width="2.9" stroke-dasharray="3.05 9.16"/>
<text x="387.6" y="118.90" font-size="8.4" fill="#000" stroke="#000" stroke-width="0.25" font-family="Liberation Sans, sans-serif">120</text>
<polygon points="48.70,292.76 49.70,292.46 50.70,292.20 51.70,291.96 52.70,291.75 53.70,291.57 54.70,291.42 55.70,291.30 56.70,291.21 57.70,291.14 58.70,291.10 59.70,291.08 60.70,291.08 61.70,291.11 62.70,291.16 63.70,291.23 64.70,291.33 65.70,291.44 66.70,291.57 67.70,291.72 68.70,291.89 69.70,292.07 70.70,292.27 71.70,292.49 72.70,292.72 73.70,292.96 74.70,293.22 75.70,293.48 76.70,293.76 77.70,294.05 78.70,294.35 79.70,294.66 80.70,294.97 81.70,295.30 82.70,295.63 83.70,295.96 84.70,296.30 85.70,296.65 86.70,296.99 87.70,297.34 88.70,297.70 89.70,298.05 90.70,298.40 91.70,298.75 92.70,299.11 93.70,299.46 94.70,299.81 95.70,300.16 96.70,300.51 97.70,300.86 98.70,301.20 99.70,301.55 100.70,301.89 101.70,302.23 102.70,302.57 103.70,302.91 104.70,303.24 105.70,303.57 106.70,303.90 107.70,304.22 108.70,304.54 109.70,304.86 110.70,305.18 111.70,305.49 112.70,305.79 113.70,306.09 114.70,306.39 115.70,306.68 116.70,306.97 117.70,307.25 118.70,307.53 119.70,307.81 120.70,308.08 121.70,308.35 122.70,308.61 123.70,308.87 124.70,309.12 125.70,309.37 126.70,309.62 127.70,309.86 128.70,310.10 129.70,310.33 130.70,310.56 131.70,310.79 132.70,311.01 133.70,311.22 134.70,311.44 135.70,311.65 136.70,311.85 137.70,312.05 138.70,312.25 139.70,312.44 140.70,312.63 141.70,312.81 142.70,312.99 143.70,313.17 144.70,313.34 145.70,313.51 146.70,313.68 147.70,313.84 148.70,313.99 149.70,314.15 150.70,314.29 151.70,314.44 152.70,314.58 153.70,314.72 154.70,314.85 155.70,314.98 156.70,315.11 157.70,315.23 158.70,315.34 159.70,315.46 160.70,315.57 161.70,315.68 162.70,315.78 163.70,315.88 164.70,315.97 165.70,316.06 166.70,316.15 167.70,316.23 168.70,316.32 169.70,316.39 170.70,316.46 171.70,316.53 172.70,316.60 173.70,316.66 174.70,316.72 175.70,316.77 176.70,316.82 177.70,316.87 178.70,316.92 179.70,316.96 180.70,316.99 181.70,317.03 182.70,317.06 183.70,317.08 184.70,317.10 185.70,317.12 186.70,317.14 187.70,317.15 188.70,317.16 189.70,317.16 190.70,317.16 191.70,317.16 192.70,317.16 193.70,317.15 194.70,317.14 195.70,317.12 196.70,317.10 197.70,317.08 198.70,317.05 199.70,317.02 200.70,316.99 201.70,316.96 202.70,316.92 203.70,316.87 204.70,316.83 205.70,316.78 206.70,316.73 207.70,316.67 208.70,316.61 209.70,316.55 210.70,316.49 211.70,316.42 212.70,316.35 213.70,316.27 214.70,316.20 215.70,316.12 216.70,316.04 217.70,315.96 218.70,315.88 219.70,315.79 220.70,315.71 221.70,315.62 222.70,315.53 223.70,315.44 224.70,315.35 225.70,315.26 226.70,315.17 227.70,315.08 228.70,314.99 229.70,314.90 230.70,314.81 231.70,314.72 232.70,314.63 233.70,314.55 234.70,314.46 235.70,314.37 236.70,314.28 237.70,314.20 238.70,314.11 239.70,314.02 240.70,313.94 241.70,313.85 242.70,313.76 243.70,313.67 244.70,313.58 245.70,313.50 246.70,313.40 247.70,313.31 248.70,313.22 249.70,313.13 250.70,313.03 251.70,312.94 252.70,312.84 253.70,312.74 254.70,312.64 255.70,312.54 256.70,312.44 257.70,312.33 258.70,312.22 259.70,312.11 260.70,312.00 261.70,311.88 262.70,311.77 263.70,311.65 264.70,311.53 265.70,311.40 266.70,311.27 267.70,311.14 268.70,311.01 269.70,310.87 270.70,310.73 271.70,310.58 272.70,310.43 273.70,310.28 274.70,310.12 275.70,309.96 276.70,309.80 277.70,309.63 278.70,309.45 279.70,309.27 280.70,309.09 281.70,308.90 282.70,308.71 283.70,308.51 284.70,308.30 285.70,308.09 286.70,307.88 287.70,307.66 288.70,307.43 289.70,307.20 290.70,306.96 291.70,306.72 292.70,306.47 293.70,306.22 294.70,305.96 295.70,305.70 296.70,305.43 297.70,305.16 298.70,304.88 299.70,304.60 300.70,304.32 301.70,304.03 302.70,303.74 303.70,303.44 304.70,303.14 305.70,302.84 306.70,302.53 307.70,302.22 308.70,301.90 309.70,301.58 310.70,301.26 311.70,300.94 312.70,300.61 313.70,300.28 314.70,299.95 315.70,299.61 316.70,299.28 317.70,298.93 318.70,298.59 319.70,298.25 320.70,297.90 321.70,297.55 322.70,297.20 323.70,296.85 324.70,296.49 325.70,296.14 326.70,295.78 327.70,295.42 328.70,295.06 329.70,294.70 330.70,294.34 331.70,293.97 332.70,293.61 333.70,293.25 334.37,293.00 334.37,312.89 333.70,313.10 332.70,313.41 331.70,313.72 330.70,314.02 329.70,314.33 328.70,314.62 327.70,314.92 326.70,315.21 325.70,315.50 324.70,315.79 323.70,316.07 322.70,316.35 321.70,316.63 320.70,316.90 319.70,317.17 318.70,317.44 317.70,317.70 316.70,317.96 315.70,318.21 314.70,318.46 313.70,318.71 312.70,318.95 311.70,319.18 310.70,319.42 309.70,319.64 308.70,319.87 307.70,320.09 306.70,320.30 305.70,320.51 304.70,320.71 303.70,320.91 302.70,321.10 301.70,321.29 300.70,321.48 299.70,321.65 298.70,321.83 297.70,321.99 296.70,322.15 295.70,322.31 294.70,322.46 293.70,322.60 292.70,322.74 291.70,322.87 290.70,323.00 289.70,323.11 288.70,323.23 287.70,323.33 286.70,323.43 285.70,323.53 284.70,323.61 283.70,323.69 282.70,323.77 281.70,323.83 280.70,323.90 279.70,323.95 278.70,324.01 277.70,324.05 276.70,324.10 275.70,324.14 274.70,324.17 273.70,324.20 272.70,324.23 271.70,324.25 270.70,324.27 269.70,324.29 268.70,324.30 267.70,324.32 266.70,324.33 265.70,324.34 264.70,324.34 263.70,324.35 262.70,324.35 261.70,324.35 260.70,324.36 259.70,324.36 258.70,324.36 257.70,324.36 256.70,324.36 255.70,324.37 254.70,324.37 253.70,324.37 252.70,324.38 251.70,324.38 250.70,324.39 249.70,324.40 248.70,324.41 247.70,324.42 246.70,324.44 245.70,324.46 244.70,324.48 243.70,324.51 242.70,324.53 241.70,324.57 240.70,324.60 239.70,324.64 238.70,324.68 237.70,324.73 236.70,324.79 235.70,324.85 234.70,324.91 233.70,324.98 232.70,325.05 231.70,325.12 230.70,325.20 229.70,325.29 228.70,325.37 227.70,325.46 226.70,325.55 225.70,325.64 224.70,325.74 223.70,325.83 222.70,325.93 221.70,326.02 220.70,326.12 219.70,326.21 218.70,326.30 217.70,326.40 216.70,326.49 215.70,326.58 214.70,326.66 213.70,326.75 212.70,326.83 211.70,326.91 210.70,326.98 209.70,327.05 208.70,327.11 207.70,327.18 206.70,327.23 205.70,327.28 204.70,327.33 203.70,327.37 202.70,327.41 201.70,327.44 200.70,327.47 199.70,327.50 198.70,327.52 197.70,327.54 196.70,327.56 195.70,327.57 194.70,327.59 193.70,327.59 192.70,327.60 191.70,327.61 190.70,327.61 189.70,327.61 188.70,327.61 187.70,327.60 186.70,327.60 185.70,327.60 184.70,327.59 183.70,327.58 182.70,327.57 181.70,327.56 180.70,327.55 179.70,327.54 178.70,327.53 177.70,327.52 176.70,327.50 175.70,327.48 174.70,327.47 173.70,327.45 172.70,327.43 171.70,327.40 170.70,327.38 169.70,327.36 168.70,327.33 167.70,327.30 166.70,327.27 165.70,327.24 164.70,327.21 163.70,327.18 162.70,327.14 161.70,327.10 160.70,327.06 159.70,327.02 158.70,326.98 157.70,326.93 156.70,326.89 155.70,326.84 154.70,326.79 153.70,326.73 152.70,326.68 151.70,326.62 150.70,326.56 149.70,326.50 148.70,326.44 147.70,326.37 146.70,326.31 145.70,326.24 144.70,326.16 143.70,326.09 142.70,326.01 141.70,325.93 140.70,325.85 139.70,325.77 138.70,325.68 137.70,325.59 136.70,325.50 135.70,325.41 134.70,325.31 133.70,325.21 132.70,325.11 131.70,325.00 130.70,324.90 129.70,324.79 128.70,324.67 127.70,324.56 126.70,324.44 125.70,324.32 124.70,324.19 123.70,324.06 122.70,323.93 121.70,323.80 120.70,323.66 119.70,323.52 118.70,323.38 117.70,323.23 116.70,323.08 115.70,322.93 114.70,322.77 113.70,322.61 112.70,322.45 111.70,322.29 110.70,322.12 109.70,321.94 108.70,321.77 107.70,321.59 106.70,321.40 105.70,321.22 104.70,321.03 103.70,320.83 102.70,320.63 101.70,320.43 100.70,320.23 99.70,320.02 98.70,319.80 97.70,319.58 96.70,319.36 95.70,319.14 94.70,318.91 93.70,318.67 92.70,318.44 91.70,318.19 90.70,317.95 89.70,317.71 88.70,317.48 87.70,317.25 86.70,317.02 85.70,316.78 84.70,316.55 83.70,316.32 82.70,316.08 81.70,315.85 80.70,315.62 79.70,315.39 78.70,315.17 77.70,314.95 76.70,314.74 75.70,314.53 74.70,314.33 73.70,314.14 72.70,313.96 71.70,313.78 70.70,313.62 69.70,313.47 68.70,313.33 67.70,313.21 66.70,313.10 65.70,313.00 64.70,312.92 63.70,312.86 62.70,312.81 61.70,312.78 60.70,312.77 59.70,312.78 58.70,312.81 57.70,312.86 56.70,312.94 55.70,313.03 54.70,313.15 53.70,313.30 52.70,313.47 51.70,313.67 50.70,313.89 49.70,314.14 48.70,314.42" fill="#56B4E9" fill-opacity="0.25"/>
<polygon points="48.70,277.90 49.70,277.64 50.70,277.39 51.70,277.15 52.70,276.93 53.70,276.72 54.70,276.52 55.70,276.35 56.70,276.19 57.70,276.05 58.70,275.92 59.70,275.82 60.70,275.73 61.70,275.67 62.70,275.62 63.70,275.60 64.70,275.60 65.70,275.62 66.70,275.66 67.70,275.72 68.70,275.81 69.70,275.93 70.70,276.07 71.70,276.23 72.70,276.43 73.70,276.64 74.70,276.89 75.70,277.17 76.70,277.47 77.70,277.80 78.70,278.16 79.70,278.56 80.70,278.97 81.70,279.42 82.70,279.89 83.70,280.38 84.70,280.89 85.70,281.41 86.70,281.96 87.70,282.51 88.70,283.08 89.70,283.66 90.70,284.25 91.70,284.85 92.70,285.45 93.70,286.05 94.70,286.65 95.70,287.25 96.70,287.85 97.70,288.45 98.70,289.03 99.70,289.61 100.70,290.18 101.70,290.74 102.70,291.28 103.70,291.81 104.70,292.34 105.70,292.86 106.70,293.37 107.70,293.89 108.70,294.40 109.70,294.92 110.70,295.44 111.70,295.96 112.70,296.49 113.70,297.04 114.70,297.58 115.70,298.13 116.70,298.69 117.70,299.24 118.70,299.78 119.70,300.32 120.70,300.85 121.70,301.37 122.70,301.88 123.70,302.36 124.70,302.83 125.70,303.27 126.70,303.70 127.70,304.11 128.70,304.50 129.70,304.87 130.70,305.23 131.70,305.57 132.70,305.90 133.70,306.22 134.70,306.52 135.70,306.81 136.70,307.08 137.70,307.35 138.70,307.61 139.70,307.85 140.70,308.09 141.70,308.32 142.70,308.55 143.70,308.77 144.70,308.98 145.70,309.19 146.70,309.39 147.70,309.59 148.70,309.78 149.70,309.97 150.70,310.15 151.70,310.33 152.70,310.50 153.70,310.67 154.70,310.84 155.70,311.00 156.70,311.15 157.70,311.30 158.70,311.44 159.70,311.58 160.70,311.72 161.70,311.85 162.70,311.98 163.70,312.10 164.70,312.22 165.70,312.33 166.70,312.44 167.70,312.54 168.70,312.65 169.70,312.74 170.70,312.83 171.70,312.92 172.70,313.00 173.70,313.08 174.70,313.16 175.70,313.23 176.70,313.30 177.70,313.36 178.70,313.42 179.70,313.47 180.70,313.53 181.70,313.57 182.70,313.62 183.70,313.66 184.70,313.69 185.70,313.73 186.70,313.75 187.70,313.78 188.70,313.80 189.70,313.82 190.70,313.83 191.70,313.84 192.70,313.85 193.70,313.85 194.70,313.85 195.70,313.85 196.70,313.85 197.70,313.84 198.70,313.82 199.70,313.81 200.70,313.79 201.70,313.76 202.70,313.74 203.70,313.71 204.70,313.68 205.70,313.64 206.70,313.60 207.70,313.56 208.70,313.52 209.70,313.47 210.70,313.42 211.70,313.37 212.70,313.32 213.70,313.26 214.70,313.20 215.70,313.13 216.70,313.07 217.70,313.00 218.70,312.93 219.70,312.85 220.70,312.77 221.70,312.70 222.70,312.61 223.70,312.53 224.70,312.44 225.70,312.35 226.70,312.26 227.70,312.17 228.70,312.07 229.70,311.98 230.70,311.88 231.70,311.77 232.70,311.67 233.70,311.56 234.70,311.45 235.70,311.34 236.70,311.23 237.70,311.12 238.70,311.00 239.70,310.88 240.70,310.76 241.70,310.64 242.70,310.52 243.70,310.39 244.70,310.26 245.70,310.13 246.70,310.00 247.70,309.87 248.70,309.74 249.70,309.60 250.70,309.46 251.70,309.33 252.70,309.19 253.70,309.05 254.70,308.90 255.70,308.76 256.70,308.61 257.70,308.47 258.70,308.32 259.70,308.17 260.70,308.02 261.70,307.87 262.70,307.72 263.70,307.56 264.70,307.40 265.70,307.25 266.70,307.08 267.70,306.92 268.70,306.75 269.70,306.58 270.70,306.40 271.70,306.22 272.70,306.04 273.70,305.85 274.70,305.65 275.70,305.45 276.70,305.24 277.70,305.03 278.70,304.81 279.70,304.58 280.70,304.34 281.70,304.10 282.70,303.85 283.70,303.59 284.70,303.32 285.70,303.04 286.70,302.75 287.70,302.46 288.70,302.15 289.70,301.83 290.70,301.50 291.70,301.16 292.70,300.80 293.70,300.44 294.70,300.06 295.70,299.67 296.70,299.27 297.70,298.85 298.70,298.42 299.70,297.98 300.70,297.52 301.70,297.05 302.70,296.56 303.70,296.05 304.70,295.53 305.70,295.00 306.70,294.45 307.70,293.88 308.70,293.29 309.70,292.69 310.70,292.06 311.70,291.42 312.70,290.77 313.70,290.10 314.70,289.41 315.70,288.73 316.70,288.03 317.70,287.34 318.70,286.65 319.70,285.97 320.70,285.30 321.70,284.64 322.70,284.00 323.70,283.39 324.70,282.79 325.70,282.23 326.70,281.69 327.70,281.19 328.70,280.73 329.70,280.31 330.70,279.93 331.70,279.61 332.70,279.33 333.70,279.11 334.37,279.00 334.37,298.99 333.70,299.29 332.70,299.73 331.70,300.17 330.70,300.61 329.70,301.04 328.70,301.46 327.70,301.88 326.70,302.30 325.70,302.71 324.70,303.12 323.70,303.52 322.70,303.92 321.70,304.31 320.70,304.70 319.70,305.08 318.70,305.46 317.70,305.84 316.70,306.21 315.70,306.57 314.70,306.93 313.70,307.28 312.70,307.63 311.70,307.98 310.70,308.32 309.70,308.65 308.70,308.98 307.70,309.30 306.70,309.62 305.70,309.93 304.70,310.24 303.70,310.54 302.70,310.84 301.70,311.13 300.70,311.42 299.70,311.70 298.70,311.97 297.70,312.24 296.70,312.51 295.70,312.76 294.70,313.02 293.70,313.26 292.70,313.50 291.70,313.74 290.70,313.97 289.70,314.19 288.70,314.41 287.70,314.62 286.70,314.82 285.70,315.02 284.70,315.21 283.70,315.40 282.70,315.58 281.70,315.75 280.70,315.93 279.70,316.09 278.70,316.25 277.70,316.41 276.70,316.56 275.70,316.70 274.70,316.85 273.70,316.99 272.70,317.12 271.70,317.25 270.70,317.38 269.70,317.50 268.70,317.63 267.70,317.75 266.70,317.86 265.70,317.98 264.70,318.09 263.70,318.20 262.70,318.30 261.70,318.41 260.70,318.51 259.70,318.62 258.70,318.72 257.70,318.82 256.70,318.92 255.70,319.02 254.70,319.11 253.70,319.21 252.70,319.31 251.70,319.40 250.70,319.49 249.70,319.59 248.70,319.68 247.70,319.77 246.70,319.86 245.70,319.95 244.70,320.05 243.70,320.14 242.70,320.23 241.70,320.32 240.70,320.41 239.70,320.50 238.70,320.59 237.70,320.68 236.70,320.77 235.70,320.87 234.70,320.96 233.70,321.05 232.70,321.14 231.70,321.24 230.70,321.33 229.70,321.43 228.70,321.52 227.70,321.62 226.70,321.72 225.70,321.81 224.70,321.91 223.70,322.00 222.70,322.10 221.70,322.19 220.70,322.28 219.70,322.37 218.70,322.46 217.70,322.54 216.70,322.63 215.70,322.71 214.70,322.78 213.70,322.86 212.70,322.93 211.70,323.00 210.70,323.07 209.70,323.13 208.70,323.18 207.70,323.24 206.70,323.29 205.70,323.33 204.70,323.37 203.70,323.41 202.70,323.44 201.70,323.47 200.70,323.50 199.70,323.52 198.70,323.54 197.70,323.55 196.70,323.56 195.70,323.57 194.70,323.58 193.70,323.58 192.70,323.58 191.70,323.58 190.70,323.57 189.70,323.57 188.70,323.56 187.70,323.54 186.70,323.53 185.70,323.51 184.70,323.49 183.70,323.47 182.70,323.45 181.70,323.42 180.70,323.40 179.70,323.37 178.70,323.34 177.70,323.30 176.70,323.26 175.70,323.22 174.70,323.18 173.70,323.14 172.70,323.09 171.70,323.04 170.70,322.99 169.70,322.93 168.70,322.87 167.70,322.81 166.70,322.74 165.70,322.67 164.70,322.60 163.70,322.53 162.70,322.45 161.70,322.37 160.70,322.28 159.70,322.19 158.70,322.10 157.70,322.00 156.70,321.90 155.70,321.80 154.70,321.69 153.70,321.58 152.70,321.46 151.70,321.34 150.70,321.21 149.70,321.09 148.70,320.95 147.70,320.82 146.70,320.67 145.70,320.53 144.70,320.38 143.70,320.22 142.70,320.06 141.70,319.90 140.70,319.73 139.70,319.55 138.70,319.37 137.70,319.19 136.70,319.00 135.70,318.81 134.70,318.61 133.70,318.40 132.70,318.19 131.70,317.97 130.70,317.75 129.70,317.53 128.70,317.29 127.70,317.06 126.70,316.81 125.70,316.56 124.70,316.31 123.70,316.05 122.70,315.78 121.70,315.51 120.70,315.23 119.70,314.94 118.70,314.65 117.70,314.36 116.70,314.05 115.70,313.74 114.70,313.42 113.70,313.10 112.70,312.77 111.70,312.44 110.70,312.09 109.70,311.74 108.70,311.39 107.70,311.03 106.70,310.66 105.70,310.30 104.70,309.92 103.70,309.54 102.70,309.16 101.70,308.78 100.70,308.39 99.70,308.00 98.70,307.61 97.70,307.22 96.70,306.83 95.70,306.43 94.70,306.04 93.70,305.64 92.70,305.25 91.70,304.85 90.70,304.46 89.70,304.06 88.70,303.67 87.70,303.28 86.70,302.90 85.70,302.52 84.70,302.14 83.70,301.77 82.70,301.40 81.70,301.04 80.70,300.69 79.70,300.35 78.70,300.02 77.70,299.70 76.70,299.39 75.70,299.09 74.70,298.81 73.70,298.54 72.70,298.28 71.70,298.03 70.70,297.81 69.70,297.60 68.70,297.41 67.70,297.23 66.70,297.08 65.70,296.94 64.70,296.83 63.70,296.73 62.70,296.66 61.70,296.62 60.70,296.59 59.70,296.59 58.70,296.62 57.70,296.67 56.70,296.75 55.70,296.86 54.70,296.99 53.70,297.16 52.70,297.36 51.70,297.58 50.70,297.84 49.70,298.13 48.70,298.46" fill="#009E73" fill-opacity="0.25"/>
<polygon points="48.70,247.15 49.70,246.52 50.70,245.92 51.70,245.34 52.70,244.79 53.70,244.26 54.70,243.77 55.70,243.30 56.70,242.86 57.70,242.45 58.70,242.08 59.70,241.74 60.70,241.43 61.70,241.16 62.70,240.93 63.70,240.73 64.70,240.57 65.70,240.45 66.70,240.38 67.70,240.34 68.70,240.35 69.70,240.40 70.70,240.50 71.70,240.65 72.70,240.84 73.70,241.08 74.70,241.37 75.70,241.71 76.70,242.10 77.70,242.55 78.70,243.05 79.70,243.60 80.70,244.20 81.70,244.86 82.70,245.55 83.70,246.30 84.70,247.08 85.70,247.91 86.70,248.77 87.70,249.67 88.70,250.61 89.70,251.57 90.70,252.56 91.70,253.58 92.70,254.62 93.70,255.69 94.70,256.77 95.70,257.87 96.70,258.99 97.70,260.12 98.70,261.26 99.70,262.41 100.70,263.56 101.70,264.72 102.70,265.88 103.70,267.04 104.70,268.20 105.70,269.35 106.70,270.50 107.70,271.63 108.70,272.75 109.70,273.86 110.70,275.00 111.70,276.14 112.70,277.26 113.70,278.36 114.70,279.43 115.70,280.48 116.70,281.51 117.70,282.52 118.70,283.50 119.70,284.46 120.70,285.40 121.70,286.31 122.70,287.21 123.70,288.08 124.70,288.92 125.70,289.75 126.70,290.55 127.70,291.33 128.70,292.08 129.70,292.82 130.70,293.49 131.70,294.12 132.70,294.73 133.70,295.31 134.70,295.88 135.70,296.42 136.70,296.93 137.70,297.43 138.70,297.90 139.70,298.35 140.70,298.77 141.70,299.17 142.70,299.55 143.70,299.91 144.70,300.24 145.70,300.55 146.70,300.84 147.70,301.11 148.70,301.36 149.70,301.60 150.70,301.82 151.70,302.03 152.70,302.23 153.70,302.42 154.70,302.60 155.70,302.77 156.70,302.94 157.70,303.10 158.70,303.26 159.70,303.42 160.70,303.57 161.70,303.73 162.70,303.89 163.70,304.05 164.70,304.21 165.70,304.38 166.70,304.55 167.70,304.73 168.70,304.90 169.70,305.08 170.70,305.27 171.70,305.47 172.70,305.66 173.70,305.86 174.70,306.06 175.70,306.25 176.70,306.45 177.70,306.64 178.70,306.83 179.70,307.02 180.70,307.20 181.70,307.38 182.70,307.55 183.70,307.72 184.70,307.89 185.70,308.05 186.70,308.20 187.70,308.35 188.70,308.49 189.70,308.62 190.70,308.67 191.70,308.68 192.70,308.68 193.70,308.66 194.70,308.64 195.70,308.61 196.70,308.56 197.70,308.50 198.70,308.43 199.70,308.34 200.70,308.24 201.70,308.12 202.70,307.99 203.70,307.84 204.70,307.67 205.70,307.48 206.70,307.28 207.70,307.06 208.70,306.87 209.70,306.68 210.70,306.46 211.70,306.23 212.70,305.98 213.70,305.70 214.70,305.40 215.70,305.07 216.70,304.72 217.70,304.34 218.70,303.94 219.70,303.51 220.70,303.06 221.70,302.58 222.70,302.08 223.70,301.56 224.70,301.04 225.70,300.50 226.70,299.96 227.70,299.43 228.70,298.90 229.70,298.37 230.70,297.84 231.70,297.31 232.70,296.81 233.70,296.33 234.70,295.87 235.70,295.45 236.70,295.07 237.70,294.73 238.70,294.43 239.70,294.18 240.70,293.98 241.70,293.83 242.70,293.75 243.70,293.72 244.70,293.76 245.70,293.86 246.70,294.00 247.70,294.18 248.70,294.39 249.70,294.62 250.70,294.88 251.70,295.15 252.70,295.42 253.70,295.68 254.70,295.92 255.70,296.13 256.70,296.30 257.70,296.43 258.70,296.53 259.70,296.59 260.70,296.61 261.70,296.60 262.70,296.55 263.70,296.47 264.70,296.35 265.70,296.21 266.70,296.03 267.70,295.81 268.70,295.57 269.70,295.30 270.70,295.00 271.70,294.67 272.70,294.32 273.70,293.94 274.70,293.53 275.70,293.10 276.70,292.64 277.70,292.16 278.70,291.66 279.70,291.14 280.70,290.69 281.70,290.27 282.70,289.82 283.70,289.36 284.70,288.87 285.70,288.37 286.70,287.85 287.70,287.32 288.70,286.77 289.70,286.20 290.70,285.62 291.70,285.03 292.70,284.34 293.70,283.59 294.70,282.84 295.70,282.07 296.70,281.29 297.70,280.50 298.70,279.71 299.70,278.90 300.70,278.09 301.70,277.27 302.70,276.45 303.70,275.62 304.70,274.78 305.70,273.95 306.70,273.10 307.70,272.26 308.70,271.41 309.70,270.56 310.70,269.71 311.70,268.87 312.70,267.94 313.70,266.98 314.70,266.02 315.70,265.06 316.70,264.11 317.70,263.16 318.70,262.21 319.70,261.28 320.70,260.34 321.70,259.42 322.70,258.50 323.70,257.59 324.70,256.69 325.70,255.88 326.70,255.12 327.70,254.37 328.70,253.63 329.70,252.90 330.70,252.18 331.70,251.48 332.70,250.80 333.70,250.13 334.37,249.69 334.37,283.99 333.70,284.28 332.70,284.72 331.70,285.17 330.70,285.65 329.70,286.13 328.70,286.64 327.70,287.15 326.70,287.67 325.70,288.21 324.70,288.75 323.70,289.30 322.70,289.85 321.70,290.41 320.70,290.97 319.70,291.53 318.70,292.10 317.70,292.66 316.70,293.21 315.70,293.77 314.70,294.32 313.70,294.86 312.70,295.39 311.70,295.92 310.70,296.43 309.70,296.93 308.70,297.43 307.70,297.91 306.70,298.38 305.70,298.84 304.70,299.29 303.70,299.72 302.70,300.15 301.70,300.57 300.70,300.98 299.70,301.38 298.70,301.77 297.70,302.15 296.70,302.53 295.70,302.89 294.70,303.24 293.70,303.59 292.70,303.92 291.70,304.25 290.70,304.57 289.70,304.89 288.70,305.19 287.70,305.49 286.70,305.78 285.70,306.06 284.70,306.33 283.70,306.60 282.70,306.86 281.70,307.11 280.70,307.36 279.70,307.60 278.70,307.83 277.70,308.06 276.70,308.28 275.70,308.50 274.70,308.71 273.70,308.91 272.70,309.11 271.70,309.31 270.70,309.49 269.70,309.68 268.70,309.86 267.70,310.03 266.70,310.20 265.70,310.37 264.70,310.53 263.70,310.68 262.70,310.84 261.70,310.99 260.70,311.13 259.70,311.27 258.70,311.41 257.70,311.55 256.70,311.68 255.70,311.81 254.70,311.94 253.70,312.07 252.70,312.19 251.70,312.32 250.70,312.44 249.70,312.56 248.70,312.69 247.70,312.81 246.70,312.93 245.70,313.05 244.70,313.17 243.70,313.30 242.70,313.42 241.70,313.54 240.70,313.67 239.70,313.80 238.70,313.93 237.70,314.06 236.70,314.20 235.70,314.34 234.70,314.48 233.70,314.62 232.70,314.77 231.70,314.92 230.70,315.08 229.70,315.24 228.70,315.40 227.70,315.57 226.70,315.74 225.70,315.91 224.70,316.08 223.70,316.25 222.70,316.42 221.70,316.59 220.70,316.76 219.70,316.93 218.70,317.09 217.70,317.26 216.70,317.41 215.70,317.57 214.70,317.72 213.70,317.86 212.70,318.00 211.70,318.13 210.70,318.25 209.70,318.37 208.70,318.48 207.70,318.58 206.70,318.67 205.70,318.75 204.70,318.82 203.70,318.89 202.70,318.95 201.70,318.99 200.70,319.03 199.70,319.07 198.70,319.09 197.70,319.11 196.70,319.12 195.70,319.12 194.70,319.11 193.70,319.10 192.70,319.08 191.70,319.06 190.70,319.02 189.70,318.98 188.70,318.94 187.70,318.89 186.70,318.83 185.70,318.76 184.70,318.69 183.70,318.62 182.70,318.53 181.70,318.45 180.70,318.35 179.70,318.26 178.70,318.15 177.70,318.05 176.70,317.93 175.70,317.82 174.70,317.69 173.70,317.57 172.70,317.44 171.70,317.30 170.70,317.16 169.70,317.02 168.70,316.87 167.70,316.72 166.70,316.57 165.70,316.41 164.70,316.25 163.70,316.09 162.70,315.92 161.70,315.75 160.70,315.58 159.70,315.41 158.70,315.23 157.70,315.04 156.70,314.85 155.70,314.66 154.70,314.46 153.70,314.26 152.70,314.05 151.70,313.84 150.70,313.62 149.70,313.39 148.70,313.16 147.70,312.92 146.70,312.67 145.70,312.41 144.70,312.15 143.70,311.88 142.70,311.59 141.70,311.30 140.70,311.01 139.70,310.70 138.70,310.38 137.70,310.05 136.70,309.71 135.70,309.36 134.70,309.00 133.70,308.63 132.70,308.25 131.70,307.85 130.70,307.45 129.70,307.04 128.70,306.62 127.70,306.19 126.70,305.75 125.70,305.30 124.70,304.84 123.70,304.38 122.70,303.90 121.70,303.42 120.70,302.94 119.70,302.44 118.70,301.94 117.70,301.44 116.70,300.93 115.70,300.41 114.70,299.88 113.70,299.36 112.70,298.82 111.70,298.29 110.70,297.75 109.70,297.20 108.70,296.65 107.70,296.10 106.70,295.55 105.70,294.99 104.70,294.43 103.70,293.87 102.70,293.31 101.70,292.74 100.70,292.18 99.70,291.61 98.70,291.04 97.70,290.48 96.70,289.91 95.70,289.35 94.70,288.78 93.70,288.22 92.70,287.65 91.70,287.09 90.70,286.53 89.70,285.97 88.70,285.42 87.70,284.87 86.70,284.33 85.70,283.80 84.70,283.28 83.70,282.78 82.70,282.29 81.70,281.82 80.70,281.38 79.70,280.96 78.70,280.58 77.70,280.22 76.70,279.89 75.70,279.59 74.70,279.33 73.70,279.09 72.70,278.88 71.70,278.70 70.70,278.55 69.70,278.43 68.70,278.33 67.70,278.26 66.70,278.22 65.70,278.19 64.70,278.20 63.70,278.22 62.70,278.27 61.70,278.35 60.70,278.44 59.70,278.55 58.70,278.69 57.70,278.84 56.70,279.02 55.70,279.21 54.70,279.42 53.70,279.65 52.70,279.90 51.70,280.16 50.70,280.44 49.70,280.73 48.70,281.04" fill="#E69F00" fill-opacity="0.25"/>
<path d="M48.70,265.46C49.20,265.28 50.70,264.74 51.70,264.41C52.70,264.08 53.70,263.77 54.70,263.49C55.70,263.20 56.70,262.94 57.70,262.70C58.70,262.47 59.70,262.27 60.70,262.10C61.70,261.93 62.70,261.79 63.70,261.69C64.70,261.60 65.70,261.53 66.70,261.51C67.70,261.49 68.70,261.51 69.70,261.58C70.70,261.65 71.70,261.76 72.70,261.93C73.70,262.09 74.70,262.31 75.70,262.58C76.70,262.86 77.70,263.21 78.70,263.60C79.70,263.99 80.70,264.45 81.70,264.95C82.70,265.45 83.70,266.01 84.70,266.60C85.70,267.19 86.70,267.82 87.70,268.49C88.70,269.16 89.70,269.87 90.70,270.61C91.70,271.35 92.70,272.14 93.70,272.93C94.70,273.72 95.70,274.54 96.70,275.36C97.70,276.18 98.70,277.02 99.70,277.86C100.70,278.70 101.70,279.54 102.70,280.38C103.70,281.22 104.70,282.07 105.70,282.90C106.70,283.74 107.70,284.56 108.70,285.39C109.70,286.23 110.70,287.08 111.70,287.93C112.70,288.78 113.70,289.64 114.70,290.47C115.70,291.31 116.70,292.13 117.70,292.94C118.70,293.75 119.70,294.54 120.70,295.32C121.70,296.09 122.70,296.84 123.70,297.57C124.70,298.30 125.70,299.01 126.70,299.68C127.70,300.36 128.70,301.01 129.70,301.62C130.70,302.24 131.70,302.84 132.70,303.39C133.70,303.94 134.70,304.46 135.70,304.94C136.70,305.42 137.70,305.87 138.70,306.27C139.70,306.66 140.70,307.00 141.70,307.32C142.70,307.63 143.70,307.89 144.70,308.15C145.70,308.41 146.70,308.65 147.70,308.88C148.70,309.10 149.70,309.31 150.70,309.50C151.70,309.70 152.70,309.88 153.70,310.06C154.70,310.23 155.70,310.40 156.70,310.56C157.70,310.72 158.70,310.86 159.70,311.03C160.70,311.20 161.70,311.41 162.70,311.60C163.70,311.79 164.70,311.99 165.70,312.18C166.70,312.38 167.70,312.58 168.70,312.77C169.70,312.95 170.70,313.14 171.70,313.31C172.70,313.49 173.70,313.66 174.70,313.82C175.70,313.99 176.70,314.15 177.70,314.30C178.70,314.45 179.70,314.60 180.70,314.74C181.70,314.87 182.70,315.00 183.70,315.12C184.70,315.24 185.70,315.35 186.70,315.45C187.70,315.54 188.70,315.66 189.70,315.70C190.70,315.74 191.70,315.71 192.70,315.69C193.70,315.67 194.70,315.63 195.70,315.58C196.70,315.53 197.70,315.47 198.70,315.40C199.70,315.33 200.70,315.24 201.70,315.15C202.70,315.05 203.70,314.94 204.70,314.82C205.70,314.70 206.70,314.54 207.70,314.42C208.70,314.29 209.70,314.20 210.70,314.07C211.70,313.95 212.70,313.81 213.70,313.66C214.70,313.51 215.70,313.38 216.70,313.18C217.70,312.97 218.70,312.69 219.70,312.42C220.70,312.15 221.70,311.86 222.70,311.56C223.70,311.26 224.70,310.95 225.70,310.62C226.70,310.29 227.70,309.94 228.70,309.59C229.70,309.25 230.70,308.91 231.70,308.56C232.70,308.22 233.70,307.88 234.70,307.53C235.70,307.18 236.70,306.82 237.70,306.48C238.70,306.15 239.70,305.81 240.70,305.53C241.70,305.25 242.70,305.02 243.70,304.82C244.70,304.61 245.70,304.43 246.70,304.30C247.70,304.17 248.70,304.08 249.70,304.03C250.70,303.99 251.70,304.00 252.70,304.02C253.70,304.04 254.70,304.11 255.70,304.17C256.70,304.22 257.70,304.31 258.70,304.37C259.70,304.42 260.70,304.48 261.70,304.52C262.70,304.56 263.70,304.60 264.70,304.60C265.70,304.61 266.70,304.59 267.70,304.53C268.70,304.47 269.70,304.38 270.70,304.24C271.70,304.11 272.70,303.93 273.70,303.71C274.70,303.49 275.70,303.23 276.70,302.92C277.70,302.61 278.70,302.23 279.70,301.84C280.70,301.44 281.70,300.97 282.70,300.55C283.70,300.12 284.70,299.72 285.70,299.28C286.70,298.83 287.70,298.36 288.70,297.87C289.70,297.38 290.70,296.89 291.70,296.32C292.70,295.76 293.70,295.12 294.70,294.49C295.70,293.87 296.70,293.22 297.70,292.55C298.70,291.89 299.70,291.22 300.70,290.51C301.70,289.79 302.70,289.03 303.70,288.28C304.70,287.54 305.70,286.79 306.70,286.04C307.70,285.29 308.70,284.58 309.70,283.80C310.70,283.01 311.70,282.16 312.70,281.34C313.70,280.52 314.70,279.69 315.70,278.89C316.70,278.09 317.70,277.32 318.70,276.54C319.70,275.77 320.70,275.01 321.70,274.26C322.70,273.51 323.70,272.76 324.70,272.04C325.70,271.31 326.70,270.59 327.70,269.90C328.70,269.20 329.70,268.52 330.70,267.86C331.70,267.20 333.09,266.31 333.70,265.92C334.31,265.53 334.26,265.57 334.37,265.50" fill="none" stroke="#E69F00" stroke-width="2.9" stroke-linecap="butt"/>
<path d="M48.70,290.13C49.20,289.98 50.70,289.50 51.70,289.23C52.70,288.97 53.70,288.73 54.70,288.52C55.70,288.32 56.70,288.14 57.70,288.00C58.70,287.86 59.70,287.75 60.70,287.68C61.70,287.60 62.70,287.54 63.70,287.55C64.70,287.57 65.70,287.66 66.70,287.76C67.70,287.87 68.70,288.02 69.70,288.21C70.70,288.39 71.70,288.61 72.70,288.87C73.70,289.13 74.70,289.45 75.70,289.77C76.70,290.10 77.70,290.43 78.70,290.81C79.70,291.20 80.70,291.62 81.70,292.07C82.70,292.52 83.70,293.00 84.70,293.50C85.70,293.99 86.70,294.51 87.70,295.03C88.70,295.55 89.70,296.09 90.70,296.63C91.70,297.18 92.70,297.76 93.70,298.32C94.70,298.87 95.70,299.43 96.70,299.98C97.70,300.53 98.70,301.07 99.70,301.61C100.70,302.14 101.70,302.67 102.70,303.18C103.70,303.70 104.70,304.20 105.70,304.69C106.70,305.18 107.70,305.66 108.70,306.12C109.70,306.58 110.70,307.02 111.70,307.44C112.70,307.87 113.70,308.27 114.70,308.66C115.70,309.04 116.70,309.41 117.70,309.76C118.70,310.11 119.70,310.44 120.70,310.76C121.70,311.08 122.70,311.38 123.70,311.67C124.70,311.96 125.70,312.24 126.70,312.50C127.70,312.77 128.70,313.02 129.70,313.26C130.70,313.51 131.70,313.74 132.70,313.97C133.70,314.19 134.70,314.41 135.70,314.62C136.70,314.83 137.70,315.03 138.70,315.23C139.70,315.43 140.70,315.62 141.70,315.81C142.70,316.00 143.70,316.19 144.70,316.38C145.70,316.56 146.70,316.75 147.70,316.93C148.70,317.11 149.70,317.29 150.70,317.46C151.70,317.64 152.70,317.81 153.70,317.98C154.70,318.15 155.70,318.31 156.70,318.48C157.70,318.64 158.70,318.79 159.70,318.94C160.70,319.09 161.70,319.24 162.70,319.38C163.70,319.52 164.70,319.65 165.70,319.78C166.70,319.91 167.70,320.03 168.70,320.15C169.70,320.26 170.70,320.37 171.70,320.47C172.70,320.57 173.70,320.67 174.70,320.75C175.70,320.84 176.70,320.91 177.70,320.98C178.70,321.05 179.70,321.11 180.70,321.16C181.70,321.21 182.70,321.25 183.70,321.28C184.70,321.31 185.70,321.33 186.70,321.34C187.70,321.35 188.70,321.35 189.70,321.34C190.70,321.33 191.70,321.31 192.70,321.29C193.70,321.26 194.70,321.22 195.70,321.18C196.70,321.13 197.70,321.08 198.70,321.02C199.70,320.96 200.70,320.90 201.70,320.82C202.70,320.75 203.70,320.67 204.70,320.58C205.70,320.50 206.70,320.40 207.70,320.31C208.70,320.21 209.70,320.11 210.70,320.00C211.70,319.89 212.70,319.78 213.70,319.66C214.70,319.55 215.70,319.43 216.70,319.31C217.70,319.19 218.70,319.06 219.70,318.93C220.70,318.81 221.70,318.67 222.70,318.54C223.70,318.41 224.70,318.28 225.70,318.14C226.70,318.01 227.70,317.87 228.70,317.74C229.70,317.60 230.70,317.47 231.70,317.33C232.70,317.20 233.70,317.06 234.70,316.93C235.70,316.79 236.70,316.66 237.70,316.53C238.70,316.40 239.70,316.27 240.70,316.15C241.70,316.02 242.70,315.90 243.70,315.78C244.70,315.66 245.70,315.54 246.70,315.42C247.70,315.31 248.70,315.18 249.70,315.10C250.70,315.01 251.70,314.97 252.70,314.91C253.70,314.85 254.70,314.80 255.70,314.74C256.70,314.69 257.70,314.63 258.70,314.58C259.70,314.52 260.70,314.48 261.70,314.41C262.70,314.34 263.70,314.25 264.70,314.17C265.70,314.08 266.70,313.99 267.70,313.90C268.70,313.80 269.70,313.70 270.70,313.59C271.70,313.48 272.70,313.36 273.70,313.24C274.70,313.11 275.70,312.97 276.70,312.82C277.70,312.67 278.70,312.50 279.70,312.33C280.70,312.15 281.70,311.96 282.70,311.76C283.70,311.55 284.70,311.33 285.70,311.10C286.70,310.87 287.70,310.62 288.70,310.35C289.70,310.08 290.70,309.78 291.70,309.47C292.70,309.16 293.70,308.82 294.70,308.47C295.70,308.13 296.70,307.77 297.70,307.40C298.70,307.03 299.70,306.65 300.70,306.26C301.70,305.87 302.70,305.46 303.70,305.05C304.70,304.64 305.70,304.22 306.70,303.79C307.70,303.37 308.70,302.94 309.70,302.49C310.70,302.04 311.70,301.56 312.70,301.08C313.70,300.61 314.70,300.12 315.70,299.63C316.70,299.15 317.70,298.66 318.70,298.16C319.70,297.67 320.70,297.17 321.70,296.67C322.70,296.17 323.70,295.67 324.70,295.17C325.70,294.67 326.70,294.17 327.70,293.66C328.70,293.16 329.70,292.66 330.70,292.16C331.70,291.67 333.09,290.98 333.70,290.67C334.31,290.37 334.26,290.40 334.37,290.34" fill="none" stroke="#009E73" stroke-width="2.9" stroke-linecap="butt" stroke-dasharray="5.9 6.26" stroke-dashoffset="0"/>
<path d="M48.70,306.41C49.20,306.29 50.70,305.93 51.70,305.73C52.70,305.54 53.70,305.37 54.70,305.23C55.70,305.09 56.70,304.98 57.70,304.90C58.70,304.81 59.70,304.76 60.70,304.72C61.70,304.68 62.70,304.67 63.70,304.68C64.70,304.69 65.70,304.73 66.70,304.78C67.70,304.83 68.70,304.91 69.70,305.00C70.70,305.09 71.70,305.20 72.70,305.33C73.70,305.46 74.70,305.61 75.70,305.77C76.70,305.93 77.70,306.11 78.70,306.30C79.70,306.49 80.70,306.69 81.70,306.91C82.70,307.12 83.70,307.35 84.70,307.59C85.70,307.82 86.70,308.07 87.70,308.32C88.70,308.58 89.70,308.84 90.70,309.12C91.70,309.39 92.70,309.69 93.70,309.98C94.70,310.27 95.70,310.57 96.70,310.87C97.70,311.17 98.70,311.47 99.70,311.77C100.70,312.07 101.70,312.38 102.70,312.68C103.70,312.98 104.70,313.28 105.70,313.58C106.70,313.87 107.70,314.17 108.70,314.46C109.70,314.75 110.70,315.05 111.70,315.34C112.70,315.63 113.70,315.92 114.70,316.20C115.70,316.48 116.70,316.76 117.70,317.02C118.70,317.29 119.70,317.55 120.70,317.80C121.70,318.06 122.70,318.30 123.70,318.54C124.70,318.78 125.70,319.01 126.70,319.24C127.70,319.47 128.70,319.69 129.70,319.90C130.70,320.11 131.70,320.32 132.70,320.52C133.70,320.72 134.70,320.91 135.70,321.10C136.70,321.29 137.70,321.47 138.70,321.65C139.70,321.82 140.70,321.99 141.70,322.15C142.70,322.31 143.70,322.47 144.70,322.62C145.70,322.77 146.70,322.91 147.70,323.05C148.70,323.19 149.70,323.32 150.70,323.44C151.70,323.57 152.70,323.69 153.70,323.80C154.70,323.91 155.70,324.02 156.70,324.12C157.70,324.22 158.70,324.32 159.70,324.41C160.70,324.50 161.70,324.58 162.70,324.66C163.70,324.74 164.70,324.81 165.70,324.88C166.70,324.94 167.70,325.01 168.70,325.06C169.70,325.12 170.70,325.17 171.70,325.21C172.70,325.25 173.70,325.29 174.70,325.33C175.70,325.36 176.70,325.39 177.70,325.41C178.70,325.43 179.70,325.45 180.70,325.46C181.70,325.47 182.70,325.48 183.70,325.48C184.70,325.48 185.70,325.47 186.70,325.46C187.70,325.45 188.70,325.44 189.70,325.42C190.70,325.40 191.70,325.37 192.70,325.34C193.70,325.31 194.70,325.27 195.70,325.23C196.70,325.18 197.70,325.14 198.70,325.08C199.70,325.03 200.70,324.96 201.70,324.90C202.70,324.83 203.70,324.75 204.70,324.67C205.70,324.59 206.70,324.51 207.70,324.41C208.70,324.32 209.70,324.22 210.70,324.11C211.70,324.01 212.70,323.89 213.70,323.78C214.70,323.66 215.70,323.55 216.70,323.43C217.70,323.31 218.70,323.19 219.70,323.07C220.70,322.96 221.70,322.84 222.70,322.73C223.70,322.62 224.70,322.51 225.70,322.40C226.70,322.30 227.70,322.20 228.70,322.11C229.70,322.03 230.70,321.94 231.70,321.87C232.70,321.80 233.70,321.74 234.70,321.69C235.70,321.63 236.70,321.59 237.70,321.55C238.70,321.51 239.70,321.48 240.70,321.45C241.70,321.42 242.70,321.40 243.70,321.38C244.70,321.36 245.70,321.34 246.70,321.32C247.70,321.30 248.70,321.28 249.70,321.27C250.70,321.26 251.70,321.27 252.70,321.26C253.70,321.26 254.70,321.25 255.70,321.24C256.70,321.23 257.70,321.22 258.70,321.19C259.70,321.17 260.70,321.15 261.70,321.11C262.70,321.08 263.70,321.03 264.70,320.99C265.70,320.94 266.70,320.88 267.70,320.82C268.70,320.75 269.70,320.68 270.70,320.60C271.70,320.53 272.70,320.44 273.70,320.35C274.70,320.26 275.70,320.16 276.70,320.06C277.70,319.95 278.70,319.85 279.70,319.73C280.70,319.60 281.70,319.46 282.70,319.31C283.70,319.16 284.70,319.01 285.70,318.85C286.70,318.69 287.70,318.53 288.70,318.36C289.70,318.19 290.70,318.01 291.70,317.83C292.70,317.64 293.70,317.46 294.70,317.26C295.70,317.07 296.70,316.87 297.70,316.67C298.70,316.46 299.70,316.25 300.70,316.04C301.70,315.82 302.70,315.60 303.70,315.38C304.70,315.15 305.70,314.92 306.70,314.68C307.70,314.45 308.70,314.22 309.70,313.96C310.70,313.71 311.70,313.43 312.70,313.16C313.70,312.89 314.70,312.61 315.70,312.32C316.70,312.04 317.70,311.75 318.70,311.46C319.70,311.17 320.70,310.87 321.70,310.57C322.70,310.27 323.70,309.97 324.70,309.66C325.70,309.35 326.70,309.04 327.70,308.72C328.70,308.41 329.70,308.09 330.70,307.77C331.70,307.44 333.09,306.99 333.70,306.79C334.31,306.59 334.26,306.60 334.37,306.57" fill="none" stroke="#56B4E9" stroke-width="2.9" stroke-linecap="butt" stroke-dasharray="11.6 6.64" stroke-dashoffset="0"/>
<rect x="33.6" y="209.1" width="316.4" height="129.0" fill="none" stroke="#7f7f7f" stroke-width="1"/>
<line x1="30.70" y1="332.24" x2="33.60" y2="332.24" stroke="#4d4d4d" stroke-width="1"/>
<text x="28.0" y="335.14" text-anchor="end" font-size="8.4" fill="#4d4d4d" font-family="Liberation Sans, sans-serif">0</text>
<line x1="30.70" y1="302.92" x2="33.60" y2="302.92" stroke="#4d4d4d" stroke-width="1"/>
<text x="28.0" y="305.82" text-anchor="end" font-size="8.4" fill="#4d4d4d" font-family="Liberation Sans, sans-serif">5</text>
<line x1="30.70" y1="273.60" x2="33.60" y2="273.60" stroke="#4d4d4d" stroke-width="1"/>
<text x="28.0" y="276.50" text-anchor="end" font-size="8.4" fill="#4d4d4d" font-family="Liberation Sans, sans-serif">10</text>
<line x1="30.70" y1="244.28" x2="33.60" y2="244.28" stroke="#4d4d4d" stroke-width="1"/>
<text x="28.0" y="247.18" text-anchor="end" font-size="8.4" fill="#4d4d4d" font-family="Liberation Sans, sans-serif">15</text>
<line x1="30.70" y1="214.96" x2="33.60" y2="214.96" stroke="#4d4d4d" stroke-width="1"/>
<text x="28.0" y="217.86" text-anchor="end" font-size="8.4" fill="#4d4d4d" font-family="Liberation Sans, sans-serif">20</text>
<line x1="48.70" y1="338.10" x2="48.70" y2="341.00" stroke="#4d4d4d" stroke-width="1"/>
<text x="49.40" y="349.20" text-anchor="middle" font-size="8.4" fill="#4d4d4d" font-family="Liberation Sans, sans-serif">1</text>
<line x1="74.67" y1="338.10" x2="74.67" y2="341.00" stroke="#4d4d4d" stroke-width="1"/>
<text x="75.37" y="349.20" text-anchor="middle" font-size="8.4" fill="#4d4d4d" font-family="Liberation Sans, sans-serif">2</text>
<line x1="100.64" y1="338.10" x2="100.64" y2="341.00" stroke="#4d4d4d" stroke-width="1"/>
<text x="101.34" y="349.20" text-anchor="middle" font-size="8.4" fill="#4d4d4d" font-family="Liberation Sans, sans-serif">3</text>
<line x1="126.61" y1="338.10" x2="126.61" y2="341.00" stroke="#4d4d4d" stroke-width="1"/>
<text x="127.31" y="349.20" text-anchor="middle" font-size="8.4" fill="#4d4d4d" font-family="Liberation Sans, sans-serif">4</text>
<line x1="152.58" y1="338.10" x2="152.58" y2="341.00" stroke="#4d4d4d" stroke-width="1"/>
<text x="153.28" y="349.20" text-anchor="middle" font-size="8.4" fill="#4d4d4d" font-family="Liberation Sans, sans-serif">5</text>
<line x1="178.55" y1="338.10" x2="178.55" y2="341.00" stroke="#4d4d4d" stroke-width="1"/>
<text x="179.25" y="349.20" text-anchor="middle" font-size="8.4" fill="#4d4d4d" font-family="Liberation Sans, sans-serif">6</text>
<line x1="204.52" y1="338.10" x2="204.52" y2="341.00" stroke="#4d4d4d" stroke-width="1"/>
<text x="205.22" y="349.20" text-anchor="middle" font-size="8.4" fill="#4d4d4d" font-family="Liberation Sans, sans-serif">7</text>
<line x1="230.49" y1="338.10" x2="230.49" y2="341.00" stroke="#4d4d4d" stroke-width="1"/>
<text x="231.19" y="349.20" text-anchor="middle" font-size="8.4" fill="#4d4d4d" font-family="Liberation Sans, sans-serif">8</text>
<line x1="256.46" y1="338.10" x2="256.46" y2="341.00" stroke="#4d4d4d" stroke-width="1"/>
<text x="257.16" y="349.20" text-anchor="middle" font-size="8.4" fill="#4d4d4d" font-family="Liberation Sans, sans-serif">9</text>
<line x1="282.43" y1="338.10" x2="282.43" y2="341.00" stroke="#4d4d4d" stroke-width="1"/>
<text x="283.13" y="349.20" text-anchor="middle" font-size="8.4" fill="#4d4d4d" font-family="Liberation Sans, sans-serif">10</text>
<line x1="308.40" y1="338.10" x2="308.40" y2="341.00" stroke="#4d4d4d" stroke-width="1"/>
<text x="309.10" y="349.20" text-anchor="middle" font-size="8.4" fill="#4d4d4d" font-family="Liberation Sans, sans-serif">11</text>
<line x1="334.37" y1="338.10" x2="334.37" y2="341.00" stroke="#4d4d4d" stroke-width="1"/>
<text x="335.07" y="349.20" text-anchor="middle" font-size="8.4" fill="#4d4d4d" font-family="Liberation Sans, sans-serif">12</text>
<text x="191.80" y="361.50" text-anchor="middle" font-size="10.5" fill="#000" stroke="#000" stroke-width="0.25" font-family="Liberation Sans, sans-serif">Month</text>
<text transform="translate(15.4,273.60) rotate(-90)" x="0" y="0" text-anchor="middle" font-size="10.5" fill="#000" stroke="#000" stroke-width="0.25" font-family="Liberation Sans, sans-serif">Ignitions</text>
<text x="33.2" y="201.30" font-size="12.75" fill="#000" stroke="#000" stroke-width="0.25" font-family="Liberation Sans, sans-serif">Temperature</text>
<text x="365.6" y="250.80" font-size="10.7" fill="#000" stroke="#000" stroke-width="0.25" font-family="Liberation Sans, sans-serif">Anomaly (%)</text>
<rect x="366.4" y="256.60" width="15.3" height="15.1" fill="#E69F00" fill-opacity="0.25"/>
<line x1="367.9" y1="264.15" x2="380.9" y2="264.15" stroke="#E69F00" stroke-width="2.9"/>
<text x="387.6" y="267.10" font-size="8.4" fill="#000" stroke="#000" stroke-width="0.25" font-family="Liberation Sans, sans-serif">15</text>
<rect x="366.4" y="273.30" width="15.3" height="15.1" fill="#009E73" fill-opacity="0.25"/>
<line x1="367.9" y1="280.85" x2="380.9" y2="280.85" stroke="#009E73" stroke-width="2.9" stroke-dasharray="5.9 6.26"/>
<text x="387.6" y="283.80" font-size="8.4" fill="#000" stroke="#000" stroke-width="0.25" font-family="Liberation Sans, sans-serif">0</text>
<rect x="366.4" y="290.00" width="15.3" height="15.1" fill="#56B4E9" fill-opacity="0.25"/>
<line x1="367.9" y1="297.55" x2="380.9" y2="297.55" stroke="#56B4E9" stroke-width="2.9" stroke-dasharray="11.6 6.64"/>
<text x="387.6" y="300.50" font-size="8.4" fill="#000" stroke="#000" stroke-width="0.25" font-family="Liberation Sans, sans-serif">−15</text>
<polygon points="48.70,479.58 49.70,479.30 50.70,479.05 51.70,478.82 52.70,478.61 53.70,478.44 54.70,478.28 55.70,478.15 56.70,478.04 57.70,477.95 58.70,477.88 59.70,477.84 60.70,477.81 61.70,477.80 62.70,477.81 63.70,477.84 64.70,477.89 65.70,477.95 66.70,478.04 67.70,478.13 68.70,478.24 69.70,478.37 70.70,478.51 71.70,478.67 72.70,478.83 73.70,479.01 74.70,479.20 75.70,479.40 76.70,479.62 77.70,479.84 78.70,480.07 79.70,480.31 80.70,480.56 81.70,480.81 82.70,481.07 83.70,481.34 84.70,481.62 85.70,481.90 86.70,482.18 87.70,482.47 88.70,482.76 89.70,483.05 90.70,483.35 91.70,483.65 92.70,483.95 93.70,484.25 94.70,484.55 95.70,484.85 96.70,485.16 97.70,485.46 98.70,485.76 99.70,486.07 100.70,486.37 101.70,486.67 102.70,486.97 103.70,487.27 104.70,487.57 105.70,487.87 106.70,488.16 107.70,488.45 108.70,488.74 109.70,489.03 110.70,489.31 111.70,489.59 112.70,489.87 113.70,490.14 114.70,490.41 115.70,490.68 116.70,490.94 117.70,491.19 118.70,491.45 119.70,491.70 120.70,491.94 121.70,492.19 122.70,492.43 123.70,492.66 124.70,492.89 125.70,493.12 126.70,493.34 127.70,493.56 128.70,493.78 129.70,493.99 130.70,494.20 131.70,494.41 132.70,494.61 133.70,494.80 134.70,495.00 135.70,495.19 136.70,495.38 137.70,495.56 138.70,495.74 139.70,495.91 140.70,496.09 141.70,496.25 142.70,496.42 143.70,496.58 144.70,496.74 145.70,496.89 146.70,497.04 147.70,497.19 148.70,497.33 149.70,497.47 150.70,497.61 151.70,497.74 152.70,497.87 153.70,497.99 154.70,498.11 155.70,498.23 156.70,498.35 157.70,498.46 158.70,498.57 159.70,498.67 160.70,498.77 161.70,498.87 162.70,498.96 163.70,499.05 164.70,499.14 165.70,499.22 166.70,499.30 167.70,499.37 168.70,499.45 169.70,499.52 170.70,499.58 171.70,499.64 172.70,499.70 173.70,499.76 174.70,499.81 175.70,499.86 176.70,499.90 177.70,499.95 178.70,499.98 179.70,500.02 180.70,500.05 181.70,500.08 182.70,500.10 183.70,500.12 184.70,500.14 185.70,500.16 186.70,500.17 187.70,500.18 188.70,500.18 189.70,500.18 190.70,500.18 191.70,500.18 192.70,500.17 193.70,500.15 194.70,500.14 195.70,500.12 196.70,500.10 197.70,500.07 198.70,500.05 199.70,500.01 200.70,499.98 201.70,499.94 202.70,499.90 203.70,499.86 204.70,499.81 205.70,499.76 206.70,499.70 207.70,499.65 208.70,499.59 209.70,499.52 210.70,499.45 211.70,499.39 212.70,499.31 213.70,499.24 214.70,499.16 215.70,499.09 216.70,499.01 217.70,498.93 218.70,498.84 219.70,498.76 220.70,498.68 221.70,498.60 222.70,498.51 223.70,498.43 224.70,498.35 225.70,498.26 226.70,498.18 227.70,498.10 228.70,498.02 229.70,497.94 230.70,497.87 231.70,497.79 232.70,497.72 233.70,497.65 234.70,497.58 235.70,497.51 236.70,497.45 237.70,497.38 238.70,497.32 239.70,497.26 240.70,497.19 241.70,497.13 242.70,497.07 243.70,497.01 244.70,496.95 245.70,496.89 246.70,496.83 247.70,496.77 248.70,496.71 249.70,496.65 250.70,496.59 251.70,496.53 252.70,496.47 253.70,496.40 254.70,496.34 255.70,496.27 256.70,496.21 257.70,496.14 258.70,496.06 259.70,495.99 260.70,495.92 261.70,495.84 262.70,495.76 263.70,495.68 264.70,495.59 265.70,495.50 266.70,495.41 267.70,495.32 268.70,495.22 269.70,495.13 270.70,495.03 271.70,494.92 272.70,494.81 273.70,494.70 274.70,494.59 275.70,494.47 276.70,494.35 277.70,494.23 278.70,494.10 279.70,493.97 280.70,493.83 281.70,493.69 282.70,493.55 283.70,493.41 284.70,493.25 285.70,493.10 286.70,492.94 287.70,492.78 288.70,492.61 289.70,492.44 290.70,492.27 291.70,492.09 292.70,491.91 293.70,491.72 294.70,491.53 295.70,491.34 296.70,491.15 297.70,490.95 298.70,490.75 299.70,490.55 300.70,490.34 301.70,490.13 302.70,489.92 303.70,489.71 304.70,489.50 305.70,489.28 306.70,489.07 307.70,488.85 308.70,488.63 309.70,488.40 310.70,488.18 311.70,487.96 312.70,487.73 313.70,487.51 314.70,487.28 315.70,487.06 316.70,486.83 317.70,486.60 318.70,486.37 319.70,486.15 320.70,485.92 321.70,485.69 322.70,485.47 323.70,485.24 324.70,485.02 325.70,484.79 326.70,484.57 327.70,484.35 328.70,484.12 329.70,483.90 330.70,483.69 331.70,483.47 332.70,483.25 333.70,483.04 334.37,482.90 334.37,495.38 333.70,495.56 332.70,495.82 331.70,496.09 330.70,496.35 329.70,496.60 328.70,496.85 327.70,497.10 326.70,497.35 325.70,497.59 324.70,497.82 323.70,498.06 322.70,498.29 321.70,498.52 320.70,498.74 319.70,498.96 318.70,499.17 317.70,499.38 316.70,499.59 315.70,499.80 314.70,500.00 313.70,500.19 312.70,500.38 311.70,500.57 310.70,500.76 309.70,500.94 308.70,501.12 307.70,501.29 306.70,501.46 305.70,501.62 304.70,501.79 303.70,501.94 302.70,502.10 301.70,502.25 300.70,502.39 299.70,502.54 298.70,502.68 297.70,502.81 296.70,502.94 295.70,503.07 294.70,503.19 293.70,503.31 292.70,503.42 291.70,503.53 290.70,503.64 289.70,503.74 288.70,503.84 287.70,503.93 286.70,504.02 285.70,504.11 284.70,504.19 283.70,504.27 282.70,504.34 281.70,504.41 280.70,504.48 279.70,504.54 278.70,504.60 277.70,504.66 276.70,504.72 275.70,504.77 274.70,504.82 273.70,504.87 272.70,504.92 271.70,504.97 270.70,505.01 269.70,505.05 268.70,505.09 267.70,505.13 266.70,505.17 265.70,505.21 264.70,505.25 263.70,505.29 262.70,505.33 261.70,505.36 260.70,505.40 259.70,505.44 258.70,505.48 257.70,505.52 256.70,505.56 255.70,505.59 254.70,505.63 253.70,505.67 252.70,505.71 251.70,505.75 250.70,505.79 249.70,505.83 248.70,505.87 247.70,505.91 246.70,505.95 245.70,505.99 244.70,506.03 243.70,506.07 242.70,506.11 241.70,506.15 240.70,506.18 239.70,506.22 238.70,506.26 237.70,506.30 236.70,506.34 235.70,506.38 234.70,506.42 233.70,506.45 232.70,506.49 231.70,506.53 230.70,506.56 229.70,506.60 228.70,506.64 227.70,506.67 226.70,506.71 225.70,506.74 224.70,506.77 223.70,506.81 222.70,506.84 221.70,506.87 220.70,506.91 219.70,506.94 218.70,506.97 217.70,507.00 216.70,507.03 215.70,507.06 214.70,507.08 213.70,507.11 212.70,507.14 211.70,507.16 210.70,507.19 209.70,507.21 208.70,507.24 207.70,507.26 206.70,507.28 205.70,507.30 204.70,507.32 203.70,507.34 202.70,507.36 201.70,507.38 200.70,507.39 199.70,507.41 198.70,507.42 197.70,507.44 196.70,507.45 195.70,507.46 194.70,507.47 193.70,507.47 192.70,507.48 191.70,507.48 190.70,507.49 189.70,507.49 188.70,507.49 187.70,507.49 186.70,507.48 185.70,507.48 184.70,507.47 183.70,507.46 182.70,507.45 181.70,507.44 180.70,507.43 179.70,507.41 178.70,507.40 177.70,507.38 176.70,507.36 175.70,507.34 174.70,507.32 173.70,507.29 172.70,507.27 171.70,507.24 170.70,507.22 169.70,507.19 168.70,507.16 167.70,507.13 166.70,507.09 165.70,507.06 164.70,507.02 163.70,506.99 162.70,506.95 161.70,506.91 160.70,506.88 159.70,506.84 158.70,506.80 157.70,506.75 156.70,506.71 155.70,506.67 154.70,506.62 153.70,506.58 152.70,506.53 151.70,506.49 150.70,506.44 149.70,506.39 148.70,506.34 147.70,506.30 146.70,506.25 145.70,506.20 144.70,506.14 143.70,506.09 142.70,506.04 141.70,505.99 140.70,505.94 139.70,505.88 138.70,505.83 137.70,505.77 136.70,505.71 135.70,505.65 134.70,505.59 133.70,505.53 132.70,505.46 131.70,505.39 130.70,505.32 129.70,505.25 128.70,505.17 127.70,505.09 126.70,505.01 125.70,504.92 124.70,504.83 123.70,504.74 122.70,504.64 121.70,504.54 120.70,504.44 119.70,504.33 118.70,504.21 117.70,504.10 116.70,503.97 115.70,503.84 114.70,503.71 113.70,503.57 112.70,503.43 111.70,503.28 110.70,503.12 109.70,502.96 108.70,502.79 107.70,502.62 106.70,502.45 105.70,502.27 104.70,502.08 103.70,501.90 102.70,501.71 101.70,501.51 100.70,501.31 99.70,501.11 98.70,500.91 97.70,500.70 96.70,500.49 95.70,500.28 94.70,500.07 93.70,499.86 92.70,499.64 91.70,499.43 90.70,499.21 89.70,498.99 88.70,498.77 87.70,498.56 86.70,498.34 85.70,498.12 84.70,497.91 83.70,497.70 82.70,497.49 81.70,497.29 80.70,497.09 79.70,496.89 78.70,496.70 77.70,496.52 76.70,496.34 75.70,496.17 74.70,496.00 73.70,495.85 72.70,495.70 71.70,495.56 70.70,495.43 69.70,495.32 68.70,495.21 67.70,495.11 66.70,495.03 65.70,494.96 64.70,494.90 63.70,494.86 62.70,494.83 61.70,494.82 60.70,494.82 59.70,494.83 58.70,494.87 57.70,494.92 56.70,494.99 55.70,495.07 54.70,495.18 53.70,495.30 52.70,495.45 51.70,495.61 50.70,495.80 49.70,496.01 48.70,496.24" fill="#56B4E9" fill-opacity="0.25"/>
<polygon points="48.70,463.03 49.70,462.69 50.70,462.36 51.70,462.06 52.70,461.77 53.70,461.50 54.70,461.26 55.70,461.03 56.70,460.82 57.70,460.64 58.70,460.48 59.70,460.33 60.70,460.21 61.70,460.11 62.70,460.03 63.70,459.98 64.70,459.94 65.70,459.94 66.70,459.95 67.70,459.98 68.70,460.05 69.70,460.13 70.70,460.24 71.70,460.37 72.70,460.53 73.70,460.71 74.70,460.92 75.70,461.15 76.70,461.41 77.70,461.70 78.70,462.01 79.70,462.34 80.70,462.71 81.70,463.09 82.70,463.50 83.70,463.92 84.70,464.37 85.70,464.83 86.70,465.31 87.70,465.81 88.70,466.32 89.70,466.84 90.70,467.37 91.70,467.91 92.70,468.47 93.70,469.02 94.70,469.59 95.70,470.16 96.70,470.74 97.70,471.32 98.70,471.90 99.70,472.49 100.70,473.07 101.70,473.65 102.70,474.24 103.70,474.82 104.70,475.39 105.70,475.96 106.70,476.53 107.70,477.08 108.70,477.63 109.70,478.17 110.70,478.70 111.70,479.22 112.70,479.72 113.70,480.22 114.70,480.69 115.70,481.16 116.70,481.61 117.70,482.06 118.70,482.48 119.70,482.90 120.70,483.31 121.70,483.70 122.70,484.08 123.70,484.45 124.70,484.81 125.70,485.16 126.70,485.50 127.70,485.83 128.70,486.14 129.70,486.45 130.70,486.75 131.70,487.04 132.70,487.32 133.70,487.59 134.70,487.85 135.70,488.11 136.70,488.35 137.70,488.59 138.70,488.82 139.70,489.04 140.70,489.25 141.70,489.46 142.70,489.66 143.70,489.85 144.70,490.04 145.70,490.22 146.70,490.39 147.70,490.56 148.70,490.72 149.70,490.87 150.70,491.02 151.70,491.17 152.70,491.31 153.70,491.44 154.70,491.58 155.70,491.70 156.70,491.82 157.70,491.94 158.70,492.06 159.70,492.17 160.70,492.28 161.70,492.38 162.70,492.49 163.70,492.59 164.70,492.68 165.70,492.78 166.70,492.87 167.70,492.96 168.70,493.05 169.70,493.13 170.70,493.21 171.70,493.29 172.70,493.36 173.70,493.43 174.70,493.50 175.70,493.57 176.70,493.63 177.70,493.69 178.70,493.74 179.70,493.79 180.70,493.84 181.70,493.88 182.70,493.93 183.70,493.96 184.70,494.00 185.70,494.02 186.70,494.05 187.70,494.07 188.70,494.09 189.70,494.10 190.70,494.11 191.70,494.11 192.70,494.11 193.70,494.11 194.70,494.10 195.70,494.09 196.70,494.07 197.70,494.05 198.70,494.02 199.70,493.98 200.70,493.95 201.70,493.90 202.70,493.85 203.70,493.80 204.70,493.74 205.70,493.67 206.70,493.60 207.70,493.52 208.70,493.44 209.70,493.35 210.70,493.26 211.70,493.16 212.70,493.06 213.70,492.95 214.70,492.84 215.70,492.73 216.70,492.61 217.70,492.50 218.70,492.38 219.70,492.26 220.70,492.14 221.70,492.02 222.70,491.90 223.70,491.79 224.70,491.67 225.70,491.56 226.70,491.45 227.70,491.34 228.70,491.24 229.70,491.14 230.70,491.05 231.70,490.96 232.70,490.87 233.70,490.80 234.70,490.72 235.70,490.65 236.70,490.59 237.70,490.53 238.70,490.47 239.70,490.41 240.70,490.36 241.70,490.30 242.70,490.25 243.70,490.20 244.70,490.16 245.70,490.11 246.70,490.06 247.70,490.01 248.70,489.96 249.70,489.91 250.70,489.86 251.70,489.81 252.70,489.75 253.70,489.69 254.70,489.63 255.70,489.56 256.70,489.49 257.70,489.42 258.70,489.34 259.70,489.26 260.70,489.17 261.70,489.08 262.70,488.98 263.70,488.87 264.70,488.76 265.70,488.64 266.70,488.52 267.70,488.38 268.70,488.25 269.70,488.10 270.70,487.96 271.70,487.80 272.70,487.64 273.70,487.47 274.70,487.29 275.70,487.11 276.70,486.93 277.70,486.73 278.70,486.53 279.70,486.32 280.70,486.11 281.70,485.89 282.70,485.66 283.70,485.43 284.70,485.19 285.70,484.94 286.70,484.69 287.70,484.42 288.70,484.16 289.70,483.88 290.70,483.60 291.70,483.31 292.70,483.02 293.70,482.71 294.70,482.40 295.70,482.08 296.70,481.76 297.70,481.43 298.70,481.09 299.70,480.74 300.70,480.39 301.70,480.03 302.70,479.66 303.70,479.29 304.70,478.90 305.70,478.51 306.70,478.11 307.70,477.71 308.70,477.30 309.70,476.88 310.70,476.45 311.70,476.01 312.70,475.57 313.70,475.12 314.70,474.66 315.70,474.19 316.70,473.71 317.70,473.23 318.70,472.74 319.70,472.24 320.70,471.73 321.70,471.22 322.70,470.70 323.70,470.16 324.70,469.62 325.70,469.08 326.70,468.52 327.70,467.96 328.70,467.38 329.70,466.80 330.70,466.22 331.70,465.62 332.70,465.01 333.70,464.40 334.37,463.98 334.37,482.00 333.70,482.21 332.70,482.53 331.70,482.85 330.70,483.17 329.70,483.48 328.70,483.80 327.70,484.12 326.70,484.43 325.70,484.75 324.70,485.06 323.70,485.37 322.70,485.68 321.70,485.99 320.70,486.30 319.70,486.60 318.70,486.91 317.70,487.21 316.70,487.51 315.70,487.80 314.70,488.10 313.70,488.39 312.70,488.68 311.70,488.96 310.70,489.25 309.70,489.53 308.70,489.81 307.70,490.08 306.70,490.35 305.70,490.62 304.70,490.88 303.70,491.14 302.70,491.40 301.70,491.65 300.70,491.90 299.70,492.14 298.70,492.38 297.70,492.62 296.70,492.85 295.70,493.08 294.70,493.30 293.70,493.52 292.70,493.73 291.70,493.94 290.70,494.14 289.70,494.34 288.70,494.53 287.70,494.71 286.70,494.89 285.70,495.07 284.70,495.24 283.70,495.40 282.70,495.56 281.70,495.71 280.70,495.86 279.70,496.00 278.70,496.14 277.70,496.27 276.70,496.40 275.70,496.52 274.70,496.64 273.70,496.76 272.70,496.87 271.70,496.98 270.70,497.08 269.70,497.18 268.70,497.28 267.70,497.37 266.70,497.46 265.70,497.55 264.70,497.63 263.70,497.72 262.70,497.80 261.70,497.87 260.70,497.95 259.70,498.02 258.70,498.09 257.70,498.16 256.70,498.23 255.70,498.29 254.70,498.36 253.70,498.42 252.70,498.48 251.70,498.54 250.70,498.60 249.70,498.66 248.70,498.72 247.70,498.78 246.70,498.84 245.70,498.90 244.70,498.96 243.70,499.02 242.70,499.07 241.70,499.13 240.70,499.19 239.70,499.25 238.70,499.32 237.70,499.38 236.70,499.44 235.70,499.51 234.70,499.58 233.70,499.64 232.70,499.71 231.70,499.79 230.70,499.86 229.70,499.94 228.70,500.01 227.70,500.09 226.70,500.17 225.70,500.26 224.70,500.34 223.70,500.42 222.70,500.50 221.70,500.59 220.70,500.67 219.70,500.75 218.70,500.84 217.70,500.92 216.70,501.00 215.70,501.08 214.70,501.16 213.70,501.23 212.70,501.31 211.70,501.38 210.70,501.45 209.70,501.51 208.70,501.58 207.70,501.64 206.70,501.70 205.70,501.75 204.70,501.80 203.70,501.85 202.70,501.90 201.70,501.94 200.70,501.98 199.70,502.01 198.70,502.04 197.70,502.07 196.70,502.10 195.70,502.12 194.70,502.14 193.70,502.15 192.70,502.16 191.70,502.17 190.70,502.18 189.70,502.18 188.70,502.18 187.70,502.18 186.70,502.17 185.70,502.16 184.70,502.14 183.70,502.12 182.70,502.10 181.70,502.08 180.70,502.05 179.70,502.02 178.70,501.99 177.70,501.95 176.70,501.91 175.70,501.86 174.70,501.81 173.70,501.76 172.70,501.71 171.70,501.65 170.70,501.59 169.70,501.52 168.70,501.45 167.70,501.38 166.70,501.30 165.70,501.22 164.70,501.14 163.70,501.06 162.70,500.97 161.70,500.87 160.70,500.78 159.70,500.68 158.70,500.57 157.70,500.46 156.70,500.35 155.70,500.24 154.70,500.12 153.70,500.00 152.70,499.87 151.70,499.75 150.70,499.61 149.70,499.48 148.70,499.34 147.70,499.20 146.70,499.05 145.70,498.90 144.70,498.74 143.70,498.59 142.70,498.43 141.70,498.26 140.70,498.09 139.70,497.92 138.70,497.75 137.70,497.57 136.70,497.38 135.70,497.20 134.70,497.01 133.70,496.81 132.70,496.61 131.70,496.41 130.70,496.21 129.70,496.00 128.70,495.79 127.70,495.57 126.70,495.35 125.70,495.13 124.70,494.90 123.70,494.67 122.70,494.43 121.70,494.19 120.70,493.95 119.70,493.70 118.70,493.45 117.70,493.20 116.70,492.94 115.70,492.68 114.70,492.41 113.70,492.14 112.70,491.87 111.70,491.59 110.70,491.31 109.70,491.03 108.70,490.74 107.70,490.45 106.70,490.16 105.70,489.86 104.70,489.57 103.70,489.27 102.70,488.97 101.70,488.66 100.70,488.36 99.70,488.06 98.70,487.75 97.70,487.45 96.70,487.15 95.70,486.84 94.70,486.54 93.70,486.23 92.70,485.93 91.70,485.63 90.70,485.33 89.70,485.04 88.70,484.74 87.70,484.45 86.70,484.16 85.70,483.88 84.70,483.60 83.70,483.32 82.70,483.05 81.70,482.79 80.70,482.53 79.70,482.29 78.70,482.05 77.70,481.82 76.70,481.59 75.70,481.38 74.70,481.18 73.70,481.00 72.70,480.82 71.70,480.66 70.70,480.51 69.70,480.37 68.70,480.25 67.70,480.14 66.70,480.05 65.70,479.98 64.70,479.92 63.70,479.89 62.70,479.87 61.70,479.86 60.70,479.88 59.70,479.92 58.70,479.98 57.70,480.06 56.70,480.17 55.70,480.29 54.70,480.44 53.70,480.62 52.70,480.82 51.70,481.04 50.70,481.29 49.70,481.57 48.70,481.87" fill="#009E73" fill-opacity="0.25"/>
<polygon points="48.70,431.70 49.70,431.02 50.70,430.35 51.70,429.69 52.70,429.04 53.70,428.41 54.70,427.79 55.70,427.19 56.70,426.61 57.70,426.06 58.70,425.52 59.70,425.02 60.70,424.54 61.70,424.08 62.70,423.66 63.70,423.27 64.70,422.92 65.70,422.60 66.70,422.33 67.70,422.09 68.70,421.89 69.70,421.74 70.70,421.63 71.70,421.57 72.70,421.56 73.70,421.59 74.70,421.69 75.70,421.83 76.70,422.04 77.70,422.30 78.70,422.62 79.70,423.00 80.70,423.44 81.70,423.94 82.70,424.49 83.70,425.09 84.70,425.74 85.70,426.45 86.70,427.19 87.70,427.99 88.70,428.82 89.70,429.70 90.70,430.61 91.70,431.56 92.70,432.55 93.70,433.57 94.70,434.61 95.70,435.69 96.70,436.80 97.70,437.93 98.70,439.08 99.70,440.26 100.70,441.45 101.70,442.67 102.70,443.89 103.70,445.13 104.70,446.36 105.70,447.60 106.70,448.84 107.70,450.06 108.70,451.27 109.70,452.46 110.70,453.63 111.70,454.77 112.70,455.88 113.70,456.95 114.70,457.98 115.70,458.98 116.70,459.95 117.70,460.88 118.70,461.78 119.70,462.65 120.70,463.48 121.70,464.29 122.70,465.07 123.70,465.82 124.70,466.54 125.70,467.23 126.70,467.90 127.70,468.54 128.70,469.16 129.70,469.75 130.70,470.32 131.70,470.86 132.70,471.39 133.70,471.89 134.70,472.38 135.70,472.84 136.70,473.29 137.70,473.72 138.70,474.13 139.70,474.52 140.70,474.90 141.70,475.27 142.70,475.62 143.70,475.96 144.70,476.28 145.70,476.60 146.70,476.90 147.70,477.19 148.70,477.47 149.70,477.74 150.70,477.99 151.70,478.24 152.70,478.48 153.70,478.70 154.70,478.92 155.70,479.13 156.70,479.33 157.70,479.52 158.70,479.70 159.70,479.87 160.70,480.03 161.70,480.19 162.70,480.33 163.70,480.47 164.70,480.60 165.70,480.73 166.70,480.85 167.70,480.96 168.70,481.07 169.70,481.16 170.70,481.26 171.70,481.35 172.70,481.43 173.70,481.51 174.70,481.58 175.70,481.65 176.70,481.71 177.70,481.77 178.70,481.82 179.70,481.87 180.70,481.92 181.70,481.97 182.70,482.01 183.70,482.05 184.70,482.08 185.70,482.12 186.70,482.15 187.70,482.18 188.70,482.20 189.70,482.22 190.70,482.24 191.70,482.25 192.70,482.26 193.70,482.25 194.70,482.25 195.70,482.23 196.70,482.20 197.70,482.17 198.70,482.12 199.70,482.06 200.70,481.99 201.70,481.91 202.70,481.82 203.70,481.71 204.70,481.59 205.70,481.45 206.70,481.30 207.70,481.13 208.70,480.94 209.70,480.74 210.70,480.51 211.70,480.27 212.70,480.01 213.70,479.73 214.70,479.42 215.70,479.10 216.70,478.75 217.70,478.38 218.70,477.98 219.70,477.56 220.70,477.11 221.70,476.65 222.70,476.17 223.70,475.68 224.70,475.19 225.70,474.70 226.70,474.23 227.70,473.77 228.70,473.34 229.70,472.94 230.70,472.57 231.70,472.24 232.70,471.96 233.70,471.73 234.70,471.53 235.70,471.37 236.70,471.25 237.70,471.16 238.70,471.10 239.70,471.07 240.70,471.07 241.70,471.09 242.70,471.14 243.70,471.20 244.70,471.28 245.70,471.38 246.70,471.48 247.70,471.60 248.70,471.73 249.70,471.86 250.70,472.00 251.70,472.14 252.70,472.27 253.70,472.41 254.70,472.53 255.70,472.65 256.70,472.78 257.70,472.90 258.70,473.00 259.70,473.09 260.70,473.16 261.70,473.21 262.70,473.23 263.70,473.23 264.70,473.21 265.70,473.16 266.70,473.09 267.70,473.00 268.70,472.88 269.70,472.75 270.70,472.58 271.70,472.40 272.70,472.20 273.70,471.97 274.70,471.71 275.70,471.44 276.70,471.23 277.70,471.04 278.70,470.83 279.70,470.60 280.70,470.35 281.70,470.07 282.70,469.79 283.70,469.48 284.70,469.15 285.70,468.81 286.70,468.36 287.70,467.86 288.70,467.33 289.70,466.80 290.70,466.24 291.70,465.68 292.70,465.10 293.70,464.51 294.70,463.91 295.70,463.30 296.70,462.68 297.70,462.04 298.70,461.40 299.70,460.75 300.70,460.09 301.70,459.42 302.70,458.75 303.70,458.06 304.70,457.38 305.70,456.68 306.70,455.87 307.70,455.02 308.70,454.15 309.70,453.29 310.70,452.42 311.70,451.55 312.70,450.67 313.70,449.80 314.70,448.92 315.70,448.05 316.70,447.24 317.70,446.45 318.70,445.67 319.70,444.89 320.70,444.11 321.70,443.34 322.70,442.57 323.70,441.80 324.70,441.04 325.70,440.29 326.70,439.54 327.70,438.79 328.70,438.06 329.70,437.33 330.70,436.61 331.70,435.90 332.70,435.19 333.70,434.50 334.37,434.04 334.37,460.81 333.70,461.28 332.70,461.98 331.70,462.66 330.70,463.34 329.70,464.00 328.70,464.66 327.70,465.31 326.70,465.95 325.70,466.58 324.70,467.23 323.70,467.93 322.70,468.63 321.70,469.32 320.70,470.00 319.70,470.67 318.70,471.33 317.70,471.98 316.70,472.63 315.70,473.26 314.70,473.87 313.70,474.44 312.70,475.00 311.70,475.55 310.70,476.09 309.70,476.62 308.70,477.15 307.70,477.66 306.70,478.17 305.70,478.67 304.70,479.16 303.70,479.64 302.70,480.12 301.70,480.59 300.70,481.04 299.70,481.46 298.70,481.81 297.70,482.14 296.70,482.47 295.70,482.79 294.70,483.10 293.70,483.41 292.70,483.70 291.70,483.99 290.70,484.28 289.70,484.55 288.70,484.82 287.70,485.08 286.70,485.33 285.70,485.58 284.70,485.81 283.70,486.05 282.70,486.27 281.70,486.49 280.70,486.70 279.70,486.90 278.70,487.10 277.70,487.29 276.70,487.48 275.70,487.65 274.70,487.83 273.70,487.99 272.70,488.15 271.70,488.30 270.70,488.45 269.70,488.58 268.70,488.72 267.70,488.84 266.70,488.97 265.70,489.08 264.70,489.19 263.70,489.29 262.70,489.39 261.70,489.48 260.70,489.57 259.70,489.65 258.70,489.72 257.70,489.79 256.70,489.86 255.70,489.92 254.70,489.98 253.70,490.04 252.70,490.09 251.70,490.15 250.70,490.20 249.70,490.25 248.70,490.30 247.70,490.34 246.70,490.39 245.70,490.44 244.70,490.49 243.70,490.54 242.70,490.60 241.70,490.66 240.70,490.71 239.70,490.78 238.70,490.84 237.70,490.91 236.70,490.99 235.70,491.07 234.70,491.15 233.70,491.24 232.70,491.34 231.70,491.45 230.70,491.56 229.70,491.68 228.70,491.80 227.70,491.93 226.70,492.07 225.70,492.21 224.70,492.35 223.70,492.50 222.70,492.64 221.70,492.79 220.70,492.94 219.70,493.09 218.70,493.24 217.70,493.39 216.70,493.54 215.70,493.68 214.70,493.82 213.70,493.96 212.70,494.09 211.70,494.22 210.70,494.34 209.70,494.45 208.70,494.55 207.70,494.65 206.70,494.74 205.70,494.82 204.70,494.89 203.70,494.96 202.70,495.02 201.70,495.07 200.70,495.11 199.70,495.14 198.70,495.14 197.70,495.13 196.70,495.12 195.70,495.10 194.70,495.08 193.70,495.05 192.70,495.01 191.70,494.97 190.70,494.93 189.70,494.88 188.70,494.82 187.70,494.76 186.70,494.70 185.70,494.63 184.70,494.56 183.70,494.48 182.70,494.40 181.70,494.32 180.70,494.24 179.70,494.15 178.70,494.06 177.70,493.97 176.70,493.87 175.70,493.78 174.70,493.68 173.70,493.58 172.70,493.48 171.70,493.38 170.70,493.27 169.70,493.17 168.70,493.06 167.70,492.96 166.70,492.85 165.70,492.75 164.70,492.64 163.70,492.54 162.70,492.43 161.70,492.33 160.70,492.23 159.70,492.12 158.70,492.02 157.70,491.91 156.70,491.80 155.70,491.69 154.70,491.57 153.70,491.45 152.70,491.33 151.70,491.20 150.70,491.06 149.70,490.93 148.70,490.83 147.70,490.72 146.70,490.60 145.70,490.47 144.70,490.33 143.70,490.19 142.70,490.03 141.70,489.86 140.70,489.67 139.70,489.48 138.70,489.27 137.70,489.04 136.70,488.81 135.70,488.55 134.70,488.28 133.70,488.00 132.70,487.70 131.70,487.38 130.70,487.05 129.70,486.70 128.70,486.34 127.70,485.97 126.70,485.58 125.70,485.17 124.70,484.76 123.70,484.33 122.70,483.88 121.70,483.42 120.70,482.95 119.70,482.47 118.70,481.97 117.70,481.47 116.70,480.95 115.70,480.41 114.70,479.87 113.70,479.32 112.70,478.75 111.70,478.18 110.70,477.59 109.70,476.99 108.70,476.39 107.70,475.77 106.70,475.14 105.70,474.51 104.70,473.86 103.70,473.21 102.70,472.55 101.70,471.88 100.70,471.20 99.70,470.51 98.70,469.82 97.70,469.13 96.70,468.43 95.70,467.74 94.70,467.05 93.70,466.37 92.70,465.69 91.70,465.03 90.70,464.37 89.70,463.73 88.70,463.10 87.70,462.48 86.70,461.89 85.70,461.32 84.70,460.77 83.70,460.25 82.70,459.76 81.70,459.30 80.70,458.88 79.70,458.49 78.70,458.13 77.70,457.82 76.70,457.55 75.70,457.32 74.70,457.12 73.70,456.96 72.70,456.83 71.70,456.73 70.70,456.66 69.70,456.62 68.70,456.61 67.70,456.62 66.70,456.66 65.70,456.71 64.70,456.79 63.70,456.88 62.70,457.00 61.70,457.12 60.70,457.26 59.70,457.41 58.70,457.57 57.70,457.74 56.70,457.92 55.70,458.10 54.70,458.28 53.70,458.46 52.70,458.65 51.70,458.83 50.70,459.01 49.70,459.18 48.70,459.35" fill="#E69F00" fill-opacity="0.25"/>
<path d="M48.70,446.54C49.20,446.28 50.70,445.44 51.70,444.95C52.70,444.46 53.70,444.00 54.70,443.59C55.70,443.18 56.70,442.81 57.70,442.49C58.70,442.17 59.70,441.89 60.70,441.66C61.70,441.43 62.70,441.25 63.70,441.12C64.70,440.99 65.70,440.90 66.70,440.88C67.70,440.85 68.70,440.87 69.70,440.95C70.70,441.04 71.70,441.17 72.70,441.37C73.70,441.56 74.70,441.81 75.70,442.13C76.70,442.44 77.70,442.82 78.70,443.25C79.70,443.69 80.70,444.20 81.70,444.75C82.70,445.30 83.70,445.91 84.70,446.56C85.70,447.21 86.70,447.92 87.70,448.65C88.70,449.38 89.70,450.16 90.70,450.96C91.70,451.76 92.70,452.60 93.70,453.45C94.70,454.29 95.70,455.17 96.70,456.06C97.70,456.94 98.70,457.84 99.70,458.74C100.70,459.64 101.70,460.55 102.70,461.45C103.70,462.35 104.70,463.25 105.70,464.14C106.70,465.02 107.70,465.89 108.70,466.75C109.70,467.62 110.70,468.49 111.70,469.33C112.70,470.17 113.70,471.01 114.70,471.80C115.70,472.60 116.70,473.36 117.70,474.09C118.70,474.82 119.70,475.52 120.70,476.19C121.70,476.86 122.70,477.50 123.70,478.10C124.70,478.71 125.70,479.28 126.70,479.82C127.70,480.36 128.70,480.87 129.70,481.34C130.70,481.82 131.70,482.26 132.70,482.67C133.70,483.08 134.70,483.45 135.70,483.79C136.70,484.14 137.70,484.44 138.70,484.74C139.70,485.03 140.70,485.29 141.70,485.55C142.70,485.81 143.70,486.05 144.70,486.30C145.70,486.55 146.70,486.80 147.70,487.03C148.70,487.26 149.70,487.50 150.70,487.68C151.70,487.86 152.70,487.98 153.70,488.12C154.70,488.27 155.70,488.41 156.70,488.54C157.70,488.67 158.70,488.80 159.70,488.92C160.70,489.05 161.70,489.17 162.70,489.28C163.70,489.39 164.70,489.49 165.70,489.59C166.70,489.69 167.70,489.78 168.70,489.87C169.70,489.95 170.70,490.03 171.70,490.10C172.70,490.17 173.70,490.20 174.70,490.28C175.70,490.35 176.70,490.46 177.70,490.54C178.70,490.62 179.70,490.70 180.70,490.76C181.70,490.82 182.70,490.88 183.70,490.92C184.70,490.96 185.70,491.00 186.70,491.02C187.70,491.04 188.70,491.05 189.70,491.06C190.70,491.06 191.70,491.05 192.70,491.03C193.70,491.01 194.70,490.99 195.70,490.95C196.70,490.91 197.70,490.88 198.70,490.81C199.70,490.74 200.70,490.65 201.70,490.54C202.70,490.42 203.70,490.28 204.70,490.14C205.70,490.00 206.70,489.85 207.70,489.70C208.70,489.54 209.70,489.38 210.70,489.21C211.70,489.04 212.70,488.87 213.70,488.69C214.70,488.50 215.70,488.32 216.70,488.12C217.70,487.93 218.70,487.73 219.70,487.52C220.70,487.32 221.70,487.11 222.70,486.89C223.70,486.68 224.70,486.46 225.70,486.24C226.70,486.01 227.70,485.78 228.70,485.55C229.70,485.33 230.70,485.10 231.70,484.87C232.70,484.65 233.70,484.42 234.70,484.20C235.70,483.98 236.70,483.75 237.70,483.55C238.70,483.35 239.70,483.14 240.70,483.00C241.70,482.85 242.70,482.77 243.70,482.68C244.70,482.59 245.70,482.52 246.70,482.48C247.70,482.44 248.70,482.43 249.70,482.44C250.70,482.45 251.70,482.50 252.70,482.55C253.70,482.60 254.70,482.69 255.70,482.73C256.70,482.77 257.70,482.79 258.70,482.80C259.70,482.81 260.70,482.81 261.70,482.79C262.70,482.76 263.70,482.69 264.70,482.65C265.70,482.61 266.70,482.58 267.70,482.54C268.70,482.50 269.70,482.48 270.70,482.41C271.70,482.34 272.70,482.24 273.70,482.11C274.70,481.98 275.70,481.82 276.70,481.61C277.70,481.41 278.70,481.15 279.70,480.88C280.70,480.61 281.70,480.32 282.70,480.00C283.70,479.68 284.70,479.37 285.70,478.98C286.70,478.59 287.70,478.12 288.70,477.66C289.70,477.19 290.70,476.70 291.70,476.20C292.70,475.70 293.70,475.18 294.70,474.65C295.70,474.12 296.70,473.57 297.70,473.02C298.70,472.47 299.70,471.90 300.70,471.33C301.70,470.75 302.70,470.18 303.70,469.58C304.70,468.98 305.70,468.39 306.70,467.71C307.70,467.03 308.70,466.25 309.70,465.52C310.70,464.79 311.70,464.05 312.70,463.32C313.70,462.59 314.70,461.84 315.70,461.12C316.70,460.40 317.70,459.71 318.70,459.00C319.70,458.29 320.70,457.59 321.70,456.88C322.70,456.17 323.70,455.46 324.70,454.75C325.70,454.04 326.70,453.35 327.70,452.65C328.70,451.95 329.70,451.24 330.70,450.54C331.70,449.83 333.09,448.84 333.70,448.40C334.31,447.97 334.26,448.01 334.37,447.93" fill="none" stroke="#E69F00" stroke-width="2.9" stroke-linecap="butt"/>
<path d="M48.70,472.81C49.20,472.69 50.70,472.33 51.70,472.11C52.70,471.90 53.70,471.70 54.70,471.52C55.70,471.34 56.70,471.18 57.70,471.04C58.70,470.91 59.70,470.79 60.70,470.69C61.70,470.60 62.70,470.53 63.70,470.48C64.70,470.44 65.70,470.41 66.70,470.42C67.70,470.43 68.70,470.46 69.70,470.53C70.70,470.59 71.70,470.68 72.70,470.81C73.70,470.93 74.70,471.09 75.70,471.28C76.70,471.47 77.70,471.69 78.70,471.95C79.70,472.20 80.70,472.50 81.70,472.82C82.70,473.14 83.70,473.49 84.70,473.86C85.70,474.23 86.70,474.62 87.70,475.03C88.70,475.44 89.70,475.86 90.70,476.30C91.70,476.73 92.70,477.17 93.70,477.63C94.70,478.08 95.70,478.54 96.70,479.00C97.70,479.47 98.70,479.94 99.70,480.42C100.70,480.89 101.70,481.37 102.70,481.84C103.70,482.32 104.70,482.80 105.70,483.27C106.70,483.75 107.70,484.21 108.70,484.69C109.70,485.16 110.70,485.65 111.70,486.12C112.70,486.60 113.70,487.08 114.70,487.54C115.70,488.00 116.70,488.46 117.70,488.89C118.70,489.32 119.70,489.74 120.70,490.13C121.70,490.52 122.70,490.89 123.70,491.23C124.70,491.57 125.70,491.88 126.70,492.17C127.70,492.46 128.70,492.72 129.70,492.97C130.70,493.22 131.70,493.44 132.70,493.66C133.70,493.87 134.70,494.07 135.70,494.27C136.70,494.46 137.70,494.64 138.70,494.83C139.70,495.02 140.70,495.20 141.70,495.38C142.70,495.57 143.70,495.76 144.70,495.96C145.70,496.15 146.70,496.36 147.70,496.57C148.70,496.77 149.70,496.98 150.70,497.17C151.70,497.35 152.70,497.50 153.70,497.66C154.70,497.82 155.70,497.98 156.70,498.14C157.70,498.29 158.70,498.44 159.70,498.58C160.70,498.72 161.70,498.85 162.70,498.97C163.70,499.09 164.70,499.20 165.70,499.29C166.70,499.39 167.70,499.47 168.70,499.55C169.70,499.62 170.70,499.68 171.70,499.73C172.70,499.78 173.70,499.83 174.70,499.86C175.70,499.89 176.70,499.91 177.70,499.92C178.70,499.94 179.70,499.94 180.70,499.95C181.70,499.97 182.70,499.99 183.70,499.99C184.70,500.00 185.70,500.00 186.70,499.99C187.70,499.98 188.70,499.96 189.70,499.94C190.70,499.91 191.70,499.88 192.70,499.84C193.70,499.80 194.70,499.76 195.70,499.70C196.70,499.64 197.70,499.56 198.70,499.48C199.70,499.41 200.70,499.32 201.70,499.23C202.70,499.14 203.70,499.05 204.70,498.95C205.70,498.85 206.70,498.74 207.70,498.63C208.70,498.52 209.70,498.41 210.70,498.29C211.70,498.17 212.70,498.05 213.70,497.93C214.70,497.80 215.70,497.67 216.70,497.55C217.70,497.42 218.70,497.29 219.70,497.17C220.70,497.04 221.70,496.92 222.70,496.80C223.70,496.67 224.70,496.55 225.70,496.44C226.70,496.32 227.70,496.21 228.70,496.11C229.70,496.00 230.70,495.90 231.70,495.81C232.70,495.71 233.70,495.63 234.70,495.54C235.70,495.46 236.70,495.38 237.70,495.32C238.70,495.25 239.70,495.18 240.70,495.15C241.70,495.11 242.70,495.12 243.70,495.11C244.70,495.10 245.70,495.09 246.70,495.08C247.70,495.07 248.70,495.07 249.70,495.06C250.70,495.05 251.70,495.05 252.70,495.04C253.70,495.03 254.70,495.02 255.70,495.00C256.70,494.99 257.70,494.98 258.70,494.96C259.70,494.94 260.70,494.92 261.70,494.89C262.70,494.86 263.70,494.83 264.70,494.79C265.70,494.75 266.70,494.71 267.70,494.65C268.70,494.60 269.70,494.54 270.70,494.47C271.70,494.40 272.70,494.32 273.70,494.23C274.70,494.14 275.70,494.04 276.70,493.92C277.70,493.80 278.70,493.67 279.70,493.52C280.70,493.37 281.70,493.22 282.70,493.04C283.70,492.87 284.70,492.68 285.70,492.48C286.70,492.28 287.70,492.07 288.70,491.83C289.70,491.59 290.70,491.33 291.70,491.05C292.70,490.77 293.70,490.47 294.70,490.16C295.70,489.85 296.70,489.54 297.70,489.20C298.70,488.87 299.70,488.53 300.70,488.15C301.70,487.77 302.70,487.33 303.70,486.91C304.70,486.49 305.70,486.06 306.70,485.63C307.70,485.21 308.70,484.77 309.70,484.34C310.70,483.90 311.70,483.46 312.70,483.02C313.70,482.58 314.70,482.14 315.70,481.71C316.70,481.27 317.70,480.84 318.70,480.42C319.70,479.99 320.70,479.57 321.70,479.15C322.70,478.73 323.70,478.31 324.70,477.90C325.70,477.49 326.70,477.09 327.70,476.69C328.70,476.30 329.70,475.91 330.70,475.53C331.70,475.15 333.09,474.65 333.70,474.42C334.31,474.20 334.26,474.23 334.37,474.19" fill="none" stroke="#009E73" stroke-width="2.9" stroke-linecap="butt" stroke-dasharray="5.9 6.26" stroke-dashoffset="0"/>
<path d="M48.70,489.77C49.20,489.67 50.70,489.35 51.70,489.18C52.70,489.02 53.70,488.88 54.70,488.76C55.70,488.65 56.70,488.56 57.70,488.49C58.70,488.42 59.70,488.38 60.70,488.36C61.70,488.34 62.70,488.34 63.70,488.36C64.70,488.38 65.70,488.43 66.70,488.49C67.70,488.55 68.70,488.63 69.70,488.72C70.70,488.82 71.70,488.93 72.70,489.06C73.70,489.19 74.70,489.33 75.70,489.49C76.70,489.64 77.70,489.81 78.70,489.99C79.70,490.18 80.70,490.37 81.70,490.57C82.70,490.78 83.70,490.99 84.70,491.22C85.70,491.44 86.70,491.67 87.70,491.91C88.70,492.15 89.70,492.39 90.70,492.64C91.70,492.89 92.70,493.15 93.70,493.41C94.70,493.67 95.70,493.93 96.70,494.20C97.70,494.46 98.70,494.73 99.70,495.00C100.70,495.26 101.70,495.53 102.70,495.80C103.70,496.06 104.70,496.33 105.70,496.59C106.70,496.85 107.70,497.11 108.70,497.36C109.70,497.61 110.70,497.86 111.70,498.11C112.70,498.35 113.70,498.58 114.70,498.81C115.70,499.04 116.70,499.26 117.70,499.48C118.70,499.69 119.70,499.90 120.70,500.10C121.70,500.31 122.70,500.50 123.70,500.69C124.70,500.88 125.70,501.06 126.70,501.24C127.70,501.42 128.70,501.59 129.70,501.75C130.70,501.92 131.70,502.07 132.70,502.23C133.70,502.38 134.70,502.53 135.70,502.67C136.70,502.81 137.70,502.94 138.70,503.07C139.70,503.20 140.70,503.33 141.70,503.45C142.70,503.57 143.70,503.68 144.70,503.79C145.70,503.90 146.70,504.00 147.70,504.10C148.70,504.19 149.70,504.29 150.70,504.37C151.70,504.46 152.70,504.54 153.70,504.62C154.70,504.70 155.70,504.77 156.70,504.84C157.70,504.91 158.70,504.97 159.70,505.03C160.70,505.09 161.70,505.15 162.70,505.20C163.70,505.25 164.70,505.29 165.70,505.33C166.70,505.37 167.70,505.41 168.70,505.45C169.70,505.48 170.70,505.51 171.70,505.53C172.70,505.56 173.70,505.58 174.70,505.60C175.70,505.62 176.70,505.63 177.70,505.64C178.70,505.65 179.70,505.66 180.70,505.66C181.70,505.66 182.70,505.66 183.70,505.66C184.70,505.65 185.70,505.65 186.70,505.64C187.70,505.63 188.70,505.61 189.70,505.60C190.70,505.58 191.70,505.56 192.70,505.53C193.70,505.51 194.70,505.48 195.70,505.44C196.70,505.41 197.70,505.37 198.70,505.33C199.70,505.29 200.70,505.24 201.70,505.18C202.70,505.13 203.70,505.07 204.70,505.01C205.70,504.94 206.70,504.87 207.70,504.80C208.70,504.72 209.70,504.64 210.70,504.55C211.70,504.47 212.70,504.37 213.70,504.28C214.70,504.18 215.70,504.09 216.70,503.99C217.70,503.89 218.70,503.79 219.70,503.69C220.70,503.59 221.70,503.49 222.70,503.40C223.70,503.30 224.70,503.21 225.70,503.12C226.70,503.03 227.70,502.94 228.70,502.87C229.70,502.79 230.70,502.72 231.70,502.65C232.70,502.59 233.70,502.53 234.70,502.48C235.70,502.43 236.70,502.39 237.70,502.35C238.70,502.31 239.70,502.28 240.70,502.26C241.70,502.24 242.70,502.24 243.70,502.24C244.70,502.23 245.70,502.23 246.70,502.23C247.70,502.23 248.70,502.23 249.70,502.23C250.70,502.23 251.70,502.23 252.70,502.22C253.70,502.22 254.70,502.22 255.70,502.21C256.70,502.21 257.70,502.20 258.70,502.18C259.70,502.17 260.70,502.15 261.70,502.13C262.70,502.11 263.70,502.08 264.70,502.04C265.70,502.01 266.70,501.97 267.70,501.93C268.70,501.89 269.70,501.84 270.70,501.78C271.70,501.73 272.70,501.67 273.70,501.61C274.70,501.54 275.70,501.48 276.70,501.40C277.70,501.32 278.70,501.22 279.70,501.11C280.70,501.01 281.70,500.88 282.70,500.76C283.70,500.63 284.70,500.51 285.70,500.37C286.70,500.24 287.70,500.10 288.70,499.96C289.70,499.81 290.70,499.67 291.70,499.51C292.70,499.36 293.70,499.20 294.70,499.04C295.70,498.88 296.70,498.71 297.70,498.54C298.70,498.37 299.70,498.20 300.70,498.01C301.70,497.83 302.70,497.65 303.70,497.45C304.70,497.26 305.70,497.05 306.70,496.84C307.70,496.63 308.70,496.41 309.70,496.20C310.70,495.98 311.70,495.76 312.70,495.53C313.70,495.30 314.70,495.07 315.70,494.83C316.70,494.60 317.70,494.36 318.70,494.11C319.70,493.87 320.70,493.62 321.70,493.37C322.70,493.11 323.70,492.86 324.70,492.59C325.70,492.33 326.70,492.07 327.70,491.79C328.70,491.52 329.70,491.25 330.70,490.97C331.70,490.69 333.09,490.30 333.70,490.12C334.31,489.95 334.26,489.96 334.37,489.93" fill="none" stroke="#56B4E9" stroke-width="2.9" stroke-linecap="butt" stroke-dasharray="11.6 6.64" stroke-dashoffset="0"/>
<rect x="33.6" y="390.7" width="316.4" height="129.0" fill="none" stroke="#7f7f7f" stroke-width="1"/>
<line x1="30.70" y1="513.84" x2="33.60" y2="513.84" stroke="#4d4d4d" stroke-width="1"/>
<text x="28.0" y="516.74" text-anchor="end" font-size="8.4" fill="#4d4d4d" font-family="Liberation Sans, sans-serif">0</text>
<line x1="30.70" y1="484.52" x2="33.60" y2="484.52" stroke="#4d4d4d" stroke-width="1"/>
<text x="28.0" y="487.42" text-anchor="end" font-size="8.4" fill="#4d4d4d" font-family="Liberation Sans, sans-serif">5</text>
<line x1="30.70" y1="455.20" x2="33.60" y2="455.20" stroke="#4d4d4d" stroke-width="1"/>
<text x="28.0" y="458.10" text-anchor="end" font-size="8.4" fill="#4d4d4d" font-family="Liberation Sans, sans-serif">10</text>
<line x1="30.70" y1="425.88" x2="33.60" y2="425.88" stroke="#4d4d4d" stroke-width="1"/>
<text x="28.0" y="428.78" text-anchor="end" font-size="8.4" fill="#4d4d4d" font-family="Liberation Sans, sans-serif">15</text>
<line x1="30.70" y1="396.56" x2="33.60" y2="396.56" stroke="#4d4d4d" stroke-width="1"/>
<text x="28.0" y="399.46" text-anchor="end" font-size="8.4" fill="#4d4d4d" font-family="Liberation Sans, sans-serif">20</text>
<line x1="48.70" y1="519.70" x2="48.70" y2="522.60" stroke="#4d4d4d" stroke-width="1"/>
<text x="49.40" y="530.80" text-anchor="middle" font-size="8.4" fill="#4d4d4d" font-family="Liberation Sans, sans-serif">1</text>
<line x1="74.67" y1="519.70" x2="74.67" y2="522.60" stroke="#4d4d4d" stroke-width="1"/>
<text x="75.37" y="530.80" text-anchor="middle" font-size="8.4" fill="#4d4d4d" font-family="Liberation Sans, sans-serif">2</text>
<line x1="100.64" y1="519.70" x2="100.64" y2="522.60" stroke="#4d4d4d" stroke-width="1"/>
<text x="101.34" y="530.80" text-anchor="middle" font-size="8.4" fill="#4d4d4d" font-family="Liberation Sans, sans-serif">3</text>
<line x1="126.61" y1="519.70" x2="126.61" y2="522.60" stroke="#4d4d4d" stroke-width="1"/>
<text x="127.31" y="530.80" text-anchor="middle" font-size="8.4" fill="#4d4d4d" font-family="Liberation Sans, sans-serif">4</text>
<line x1="152.58" y1="519.70" x2="152.58" y2="522.60" stroke="#4d4d4d" stroke-width="1"/>
<text x="153.28" y="530.80" text-anchor="middle" font-size="8.4" fill="#4d4d4d" font-family="Liberation Sans, sans-serif">5</text>
<line x1="178.55" y1="519.70" x2="178.55" y2="522.60" stroke="#4d4d4d" stroke-width="1"/>
<text x="179.25" y="530.80" text-anchor="middle" font-size="8.4" fill="#4d4d4d" font-family="Liberation Sans, sans-serif">6</text>
<line x1="204.52" y1="519.70" x2="204.52" y2="522.60" stroke="#4d4d4d" stroke-width="1"/>
<text x="205.22" y="530.80" text-anchor="middle" font-size="8.4" fill="#4d4d4d" font-family="Liberation Sans, sans-serif">7</text>
<line x1="230.49" y1="519.70" x2="230.49" y2="522.60" stroke="#4d4d4d" stroke-width="1"/>
<text x="231.19" y="530.80" text-anchor="middle" font-size="8.4" fill="#4d4d4d" font-family="Liberation Sans, sans-serif">8</text>
<line x1="256.46" y1="519.70" x2="256.46" y2="522.60" stroke="#4d4d4d" stroke-width="1"/>
<text x="257.16" y="530.80" text-anchor="middle" font-size="8.4" fill="#4d4d4d" font-family="Liberation Sans, sans-serif">9</text>
<line x1="282.43" y1="519.70" x2="282.43" y2="522.60" stroke="#4d4d4d" stroke-width="1"/>
<text x="283.13" y="530.80" text-anchor="middle" font-size="8.4" fill="#4d4d4d" font-family="Liberation Sans, sans-serif">10</text>
<line x1="308.40" y1="519.70" x2="308.40" y2="522.60" stroke="#4d4d4d" stroke-width="1"/>
<text x="309.10" y="530.80" text-anchor="middle" font-size="8.4" fill="#4d4d4d" font-family="Liberation Sans, sans-serif">11</text>
<line x1="334.37" y1="519.70" x2="334.37" y2="522.60" stroke="#4d4d4d" stroke-width="1"/>
<text x="335.07" y="530.80" text-anchor="middle" font-size="8.4" fill="#4d4d4d" font-family="Liberation Sans, sans-serif">12</text>
<text x="191.80" y="543.10" text-anchor="middle" font-size="10.5" fill="#000" stroke="#000" stroke-width="0.25" font-family="Liberation Sans, sans-serif">Month</text>
<text transform="translate(15.4,455.20) rotate(-90)" x="0" y="0" text-anchor="middle" font-size="10.5" fill="#000" stroke="#000" stroke-width="0.25" font-family="Liberation Sans, sans-serif">Ignitions</text>
<text x="33.2" y="382.90" font-size="12.75" fill="#000" stroke="#000" stroke-width="0.25" font-family="Liberation Sans, sans-serif">VPD</text>
<text x="365.6" y="432.40" font-size="10.7" fill="#000" stroke="#000" stroke-width="0.25" font-family="Liberation Sans, sans-serif">Anomaly (%)</text>
<rect x="366.4" y="438.20" width="15.3" height="15.1" fill="#E69F00" fill-opacity="0.25"/>
<line x1="367.9" y1="445.75" x2="380.9" y2="445.75" stroke="#E69F00" stroke-width="2.9"/>
<text x="387.6" y="448.70" font-size="8.4" fill="#000" stroke="#000" stroke-width="0.25" font-family="Liberation Sans, sans-serif">30</text>
<rect x="366.4" y="454.90" width="15.3" height="15.1" fill="#009E73" fill-opacity="0.25"/>
<line x1="367.9" y1="462.45" x2="380.9" y2="462.45" stroke="#009E73" stroke-width="2.9" stroke-dasharray="5.9 6.26"/>
<text x="387.6" y="465.40" font-size="8.4" fill="#000" stroke="#000" stroke-width="0.25" font-family="Liberation Sans, sans-serif">0</text>
<rect x="366.4" y="471.60" width="15.3" height="15.1" fill="#56B4E9" fill-opacity="0.25"/>
<line x1="367.9" y1="479.15" x2="380.9" y2="479.15" stroke="#56B4E9" stroke-width="2.9" stroke-dasharray="11.6 6.64"/>
<text x="387.6" y="482.10" font-size="8.4" fill="#000" stroke="#000" stroke-width="0.25" font-family="Liberation Sans, sans-serif">−30</text>
</svg></body></html>
